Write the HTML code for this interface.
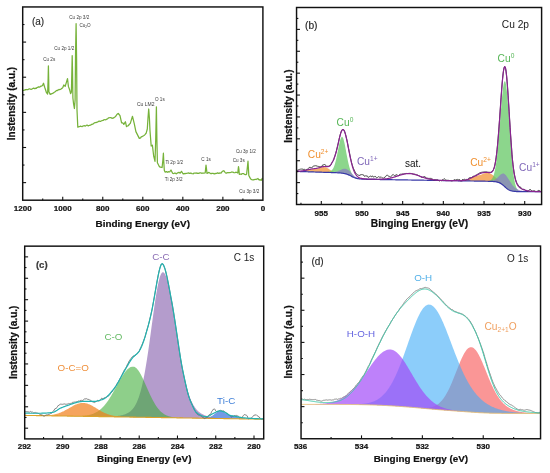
<!DOCTYPE html>
<html><head><meta charset="utf-8"><style>
html,body{margin:0;padding:0;background:#fff;width:550px;height:473px;overflow:hidden}
svg{display:block;will-change:transform}
text{font-family:"Liberation Sans", sans-serif}
.g{opacity:0.999}
</style></head><body>
<svg width="550" height="473" viewBox="0 0 550 473">
<rect x="0" y="0" width="550" height="473" fill="#fff"/>
<g class="g">
<path d="M22.8,90.50L23.4,90.32L24,90.28L24.6,90.05L25.3,89.61L25.9,89.79L26.5,89.50L27.2,89.70L27.8,89.58L28.5,89.26L29.1,88.85L29.8,88.92L30.4,89.14L31.1,89.30L31.7,89.11L32.4,88.72L33,88.43L33.7,88.02L34.3,88.57L35,88.61L35.6,88.20L36.3,88.40L36.9,87.62L37.6,87.34L38.2,87.24L38.9,86.76L39.5,87.14L40.2,86.80L41,86.04L41.7,86.02L42.5,85.50L43.5,83.20L44.7,87.30L46.5,92.70L47.6,94.10L48.1,80.00L48.4,65.90L48.7,80.00L48.9,91.80L50.2,94.40L52,93.60L52.6,93.45L53.3,92.97L53.9,92.62L54.6,92.08L55.2,91.74L55.8,91.12L56.5,90.47L57.1,90.68L57.8,90.10L58.4,90.00L59,89.41L59.7,89.53L60.3,89.38L61,89.01L61.6,88.64L62.3,88.10L62.9,87.30L63.8,85.00L65.2,86.40L67.5,78.60L68.4,86.40L69.7,90.00L70.6,93.60L71.4,92.00L71.9,70.00L72.2,55.70L72.5,70.00L72.9,98.00L73.6,104.00L74.4,108.50L75.1,100.00L75.6,50.00L76.1,23.70L76.6,60.00L77,110.00L77.8,127.10L78.5,126.80L79.2,126.57L79.9,126.40L80.6,126.19L81.3,126.51L82,126.64L82.6,126.24L83.3,125.92L84,125.80L84.6,125.64L85.2,126.10L85.8,125.81L86.5,125.30L87.1,125.03L87.7,125.42L88.3,125.89L88.9,125.50L89.5,125.38L90.1,125.14L90.8,125.07L91.4,124.47L92,124.30L92.6,124.10L93.3,123.89L93.9,123.25L94.6,122.75L95.2,122.49L95.9,122.74L96.5,122.30L97.2,122.20L97.9,121.84L98.6,121.38L99.3,121.01L100,121.50L100.7,121.37L101.3,120.86L102,120.71L102.7,120.49L103.3,120.43L104,119.60L104.6,119.71L105.3,119.76L105.9,119.68L106.6,119.19L107.2,119.07L107.9,118.54L108.5,117.90L110.5,117.50L111.1,117.57L111.7,118.20L112.3,118.02L112.9,118.40L113.5,117.87L114.1,117.60L114.8,116.97L115.4,116.70L116,115.80L116.8,114.71L117.5,113.88L118.3,113.50L120,115.70L121.6,122.80L122.3,122.86L123.1,123.19L123.8,124.40L125.4,121.70L126.5,126.60L127.1,126.10L127.8,125.99L128.4,125.49L129,124.74L129.7,123.88L130.3,123.40L132.5,116.30L134.2,123.40L135.9,131.60L139.3,138.40L140,138.23L140.6,137.91L141.2,136.91L141.9,136.70L142.6,136.21L143.3,135.88L144,135.53L144.7,134.84L145.4,134.05L146.1,133.30L147.3,129.00L148,118.00L148.7,109.00L149.4,118.00L150,130.80L151.2,146.00L152.4,145.20L153.7,156.20L155,161.30L155.7,140.00L156.4,106.80L156.9,140.00L157.4,162.70L159.3,166.50L160,167.17L160.7,167.08L161.4,167.33L162.1,167.50L162.9,160.00L163.4,153.20L163.8,162.00L164.3,170.30L165,171.90L165.7,172.05L166.3,171.55L167,171.86L167.7,172.28L168.4,171.70L169,171.86L169.7,171.90L171,170.00L172.6,173.20L173.2,173.58L173.9,173.50L174.5,173.16L175.1,173.09L175.8,173.55L176.4,173.77L177,173.21L177.7,172.84L178.3,172.62L178.9,172.43L179.6,172.69L180.2,173.20L181.5,171.30L183,173.80L183.6,173.72L184.2,173.85L184.8,173.44L185.4,173.55L186,173.42L186.6,173.47L187.2,173.25L187.8,173.06L188.4,172.94L189,173.04L189.6,173.38L190.2,173.43L190.8,173.00L191.4,173.32L192,173.65L192.6,173.75L193.2,173.81L193.8,173.13L194.4,173.12L195,173.20L195.7,173.20L196.4,172.96L197.2,173.32L197.9,173.14L198.6,173.40L199.2,173.23L199.8,172.85L200.5,172.93L201.1,172.89L201.7,173.39L202.3,173.13L203,173.16L203.6,173.20L205.2,172.90L205.7,168.00L206,165.20L206.4,168.00L207,173.40L209,172.40L210.5,173.40L211.1,173.81L211.8,173.28L212.4,173.42L213.1,173.42L213.7,173.62L214.4,173.95L215,173.40L215.6,173.61L216.3,173.45L216.9,173.36L217.6,172.83L218.2,173.16L218.8,173.47L219.5,173.08L220.1,172.78L220.8,173.18L221.4,172.70L222,171.75L222.6,171.05L223.2,171.09L223.8,170.70L225.5,173.00L226.1,173.02L226.7,173.06L227.3,172.54L227.9,172.77L228.5,172.71L229.1,172.72L229.7,172.60L230.3,172.52L230.9,172.30L231.6,172.00L232.2,172.14L232.8,172.05L233.4,172.39L234,172.68L234.6,172.75L235.2,172.54L235.8,172.20L236.4,172.30L237.8,173.00L238.2,169.00L238.5,166.60L238.9,169.00L239.3,174.30L240,174.04L240.7,174.06L241.4,174.32L242.1,173.63L242.8,173.60L243.4,173.66L244.1,173.99L244.7,174.40L245.3,174.59L246,174.61L246.6,174.30L247.5,166.00L248,161.20L248.4,168.00L248.8,175.50L249.8,177.40L250.5,178.70L251.2,179.32L251.9,179.65L252.7,179.77L253.4,179.90L254.1,179.60L255.5,179.30L256.1,179.51L256.8,179.04L257.4,178.89L258,178.50L258.6,179.54L259.3,180.10L259.9,179.70L260.6,179.89L261.2,180.40L262.4,178.00" fill="none" stroke="#76b23a" stroke-width="1.25" stroke-linejoin="round"/>
<rect x="22.7" y="6.95" width="240.20" height="193.25" fill="none" stroke="#111" stroke-width="1.45"/>
<line x1="22.7" y1="24.52" x2="24.5" y2="24.52" stroke="#111" stroke-width="1.1"/>
<line x1="22.7" y1="42.09" x2="26.099999999999998" y2="42.09" stroke="#111" stroke-width="1.1"/>
<line x1="22.7" y1="59.65" x2="24.5" y2="59.65" stroke="#111" stroke-width="1.1"/>
<line x1="22.7" y1="77.22" x2="26.099999999999998" y2="77.22" stroke="#111" stroke-width="1.1"/>
<line x1="22.7" y1="94.79" x2="24.5" y2="94.79" stroke="#111" stroke-width="1.1"/>
<line x1="22.7" y1="112.36" x2="26.099999999999998" y2="112.36" stroke="#111" stroke-width="1.1"/>
<line x1="22.7" y1="129.93" x2="24.5" y2="129.93" stroke="#111" stroke-width="1.1"/>
<line x1="22.7" y1="147.50" x2="26.099999999999998" y2="147.50" stroke="#111" stroke-width="1.1"/>
<line x1="22.7" y1="165.06" x2="24.5" y2="165.06" stroke="#111" stroke-width="1.1"/>
<line x1="22.7" y1="182.63" x2="26.099999999999998" y2="182.63" stroke="#111" stroke-width="1.1"/>
<line x1="222.87" y1="200.2" x2="222.87" y2="196.79999999999998" stroke="#111" stroke-width="1.1"/>
<line x1="182.83" y1="200.2" x2="182.83" y2="196.79999999999998" stroke="#111" stroke-width="1.1"/>
<line x1="142.80" y1="200.2" x2="142.80" y2="196.79999999999998" stroke="#111" stroke-width="1.1"/>
<line x1="102.77" y1="200.2" x2="102.77" y2="196.79999999999998" stroke="#111" stroke-width="1.1"/>
<line x1="62.73" y1="200.2" x2="62.73" y2="196.79999999999998" stroke="#111" stroke-width="1.1"/>
<line x1="242.88" y1="200.2" x2="242.88" y2="198.39999999999998" stroke="#111" stroke-width="1.1"/>
<line x1="202.85" y1="200.2" x2="202.85" y2="198.39999999999998" stroke="#111" stroke-width="1.1"/>
<line x1="162.82" y1="200.2" x2="162.82" y2="198.39999999999998" stroke="#111" stroke-width="1.1"/>
<line x1="122.78" y1="200.2" x2="122.78" y2="198.39999999999998" stroke="#111" stroke-width="1.1"/>
<line x1="82.75" y1="200.2" x2="82.75" y2="198.39999999999998" stroke="#111" stroke-width="1.1"/>
<line x1="42.72" y1="200.2" x2="42.72" y2="198.39999999999998" stroke="#111" stroke-width="1.1"/>
<text x="262.9" y="210.9" font-size="8.0" text-anchor="middle" font-weight="bold" fill="#111" stroke="#111" stroke-width="0.22">0</text>
<text x="222.9" y="210.9" font-size="8.0" text-anchor="middle" font-weight="bold" fill="#111" stroke="#111" stroke-width="0.22">200</text>
<text x="182.8" y="210.9" font-size="8.0" text-anchor="middle" font-weight="bold" fill="#111" stroke="#111" stroke-width="0.22">400</text>
<text x="142.8" y="210.9" font-size="8.0" text-anchor="middle" font-weight="bold" fill="#111" stroke="#111" stroke-width="0.22">600</text>
<text x="102.8" y="210.9" font-size="8.0" text-anchor="middle" font-weight="bold" fill="#111" stroke="#111" stroke-width="0.22">800</text>
<text x="62.7" y="210.9" font-size="8.0" text-anchor="middle" font-weight="bold" fill="#111" stroke="#111" stroke-width="0.22">1000</text>
<text x="22.7" y="210.9" font-size="8.0" text-anchor="middle" font-weight="bold" fill="#111" stroke="#111" stroke-width="0.22">1200</text>
<text x="142.8" y="227.0" font-size="9.9" text-anchor="middle" font-weight="bold" fill="#111" stroke="#111" stroke-width="0.22">Binding Energy (eV)</text>
<text transform="translate(14.6,103.5) rotate(-90)" font-size="10.0" font-weight="bold" text-anchor="middle" fill="#111" stroke="#111" stroke-width="0.22">Instensity (a.u.)</text>
<text x="31.9" y="25.0" font-size="10.0" text-anchor="start" font-weight="normal" fill="#2a2a2a" stroke="#2a2a2a" stroke-width="0.15">(a)</text>
<text x="69.3" y="18.6" font-size="4.6" text-anchor="start" font-weight="normal" fill="#3a3a3a" >Cu 2p 3/2</text>
<text x="79.4" y="26.9" font-size="4.6" fill="#3a3a3a">Cu<tspan font-size="3.2" dy="1">2</tspan><tspan dy="-1">O</tspan></text>
<text x="54.3" y="50.4" font-size="4.6" text-anchor="start" font-weight="normal" fill="#3a3a3a" >Cu 2p 1/2</text>
<text x="43.2" y="60.9" font-size="4.6" text-anchor="start" font-weight="normal" fill="#3a3a3a" >Cu 2s</text>
<text x="137.0" y="105.6" font-size="5.0" text-anchor="start" font-weight="normal" fill="#3a3a3a" >Cu LM2</text>
<text x="155.0" y="100.7" font-size="4.6" text-anchor="start" font-weight="normal" fill="#3a3a3a" >O 1s</text>
<text x="165.4" y="163.8" font-size="4.6" text-anchor="start" font-weight="normal" fill="#3a3a3a" >Ti 2p 1/2</text>
<text x="164.8" y="180.5" font-size="4.6" text-anchor="start" font-weight="normal" fill="#3a3a3a" >Ti 2p 3/2</text>
<text x="201.3" y="160.5" font-size="4.6" text-anchor="start" font-weight="normal" fill="#3a3a3a" >C 1s</text>
<text x="235.9" y="153.0" font-size="4.6" text-anchor="start" font-weight="normal" fill="#3a3a3a" >Cu 3p 1/2</text>
<text x="232.7" y="162.2" font-size="4.6" text-anchor="start" font-weight="normal" fill="#3a3a3a" >Cu 3s</text>
<text x="239.3" y="193.0" font-size="4.6" text-anchor="start" font-weight="normal" fill="#3a3a3a" >Cu 3p 3/2</text>
<path d="M296.6,171.31L297.1,171.31L297.6,171.30L298.1,171.29L298.6,171.27L299.1,171.25L299.6,171.22L300.1,171.19L300.6,171.15L301.1,171.11L301.6,171.06L302.1,171.00L302.6,170.93L303.1,170.86L303.6,170.78L304.1,170.70L304.6,170.61L305.1,170.51L305.6,170.41L306.1,170.31L306.6,170.20L307.1,170.09L307.6,169.98L308.1,169.87L308.6,169.76L309.1,169.66L309.6,169.56L310.1,169.46L310.6,169.37L311.1,169.28L311.6,169.20L312.1,169.13L312.6,169.07L313.1,169.01L313.6,168.95L314.1,168.90L314.6,168.84L315.1,168.79L315.6,168.73L316.1,168.66L316.6,168.59L317.1,168.51L317.6,168.41L318.1,168.31L318.6,168.19L319.1,168.06L319.6,167.92L320.1,167.78L320.6,167.63L321.1,167.49L321.6,167.36L322.1,167.24L322.6,167.15L323.1,167.08L323.6,167.05L324.1,167.05L324.6,167.10L325.1,167.18L325.6,167.32L326.1,167.49L326.6,167.71L327.1,167.96L327.6,168.24L328.1,168.54L328.6,168.87L329.1,169.20L329.6,169.54L330.1,169.87L330.6,170.20L331.1,170.51L331.6,170.80L332.1,171.07L332.6,171.32L333.1,171.55L333.6,171.75L334.1,171.93L334.6,172.09L335.1,172.22L335.6,172.34L336.1,172.44L336.6,172.53L337.1,172.60L337.6,172.67L338.1,172.73L338.1,172.82L337.6,172.80L337.1,172.77L336.6,172.75L336.1,172.72L335.6,172.70L335.1,172.68L334.6,172.66L334.1,172.64L333.6,172.62L333.1,172.60L332.6,172.58L332.1,172.56L331.6,172.55L331.1,172.53L330.6,172.51L330.1,172.50L329.6,172.48L329.1,172.46L328.6,172.44L328.1,172.43L327.6,172.41L327.1,172.40L326.6,172.38L326.1,172.36L325.6,172.35L325.1,172.33L324.6,172.31L324.1,172.30L323.6,172.28L323.1,172.27L322.6,172.25L322.1,172.23L321.6,172.22L321.1,172.20L320.6,172.19L320.1,172.17L319.6,172.15L319.1,172.14L318.6,172.12L318.1,172.11L317.6,172.09L317.1,172.07L316.6,172.06L316.1,172.04L315.6,172.03L315.1,172.01L314.6,171.99L314.1,171.98L313.6,171.96L313.1,171.95L312.6,171.93L312.1,171.91L311.6,171.90L311.1,171.88L310.6,171.87L310.1,171.85L309.6,171.83L309.1,171.82L308.6,171.80L308.1,171.79L307.6,171.77L307.1,171.75L306.6,171.74L306.1,171.72L305.6,171.71L305.1,171.69L304.6,171.67L304.1,171.66L303.6,171.64L303.1,171.63L302.6,171.61L302.1,171.59L301.6,171.58L301.1,171.56L300.6,171.55L300.1,171.53L299.6,171.51L299.1,171.50L298.6,171.48L298.1,171.47L297.6,171.45L297.1,171.43L296.6,171.42Z" fill="#f5a85e" fill-opacity="0.92"/>
<path d="M460.1,180.72L460.6,180.70L461.1,180.68L461.6,180.66L462.1,180.63L462.6,180.58L463.1,180.54L463.6,180.48L464.1,180.41L464.6,180.32L465.1,180.23L465.6,180.12L466.1,180.00L466.6,179.86L467.1,179.71L467.6,179.54L468.1,179.36L468.6,179.16L469.1,178.95L469.6,178.74L470.1,178.51L470.6,178.27L471.1,178.03L471.6,177.79L472.1,177.55L472.6,177.32L473.1,177.09L473.6,176.88L474.1,176.67L474.6,176.48L475.1,176.30L475.6,176.13L476.1,175.98L476.6,175.85L477.1,175.72L477.6,175.60L478.1,175.48L478.6,175.36L479.1,175.24L479.6,175.11L480.1,174.97L480.6,174.81L481.1,174.65L481.6,174.47L482.1,174.27L482.6,174.07L483.1,173.87L483.6,173.67L484.1,173.47L484.6,173.29L485.1,173.13L485.6,172.99L486.1,172.88L486.6,172.81L487.1,172.77L487.6,172.78L488.1,172.82L488.6,172.91L489.1,173.04L489.6,173.21L490.1,173.41L490.6,173.66L491.1,173.93L491.6,174.24L492.1,174.58L492.6,174.94L493.1,175.33L493.6,175.73L494.1,176.16L494.6,176.60L495.1,177.05L495.6,177.50L496.1,177.96L496.6,178.42L497.1,178.89L497.6,179.35L498.1,179.82L498.6,180.29L499.1,180.76L499.6,181.23L500.1,181.71L500.6,182.20L501.1,182.69L501.6,183.19L502.1,183.70L502.6,184.22L503.1,184.75L503.6,185.27L504.1,185.80L504.6,186.32L505.1,186.83L505.6,187.32L506.1,187.79L506.6,188.23L506.6,188.32L506.1,187.91L505.6,187.47L505.1,187.02L504.6,186.56L504.1,186.11L503.6,185.65L503.1,185.21L502.6,184.79L502.1,184.40L501.6,184.03L501.1,183.69L500.6,183.39L500.1,183.11L499.6,182.87L499.1,182.65L498.6,182.47L498.1,182.30L497.6,182.16L497.1,182.04L496.6,181.94L496.1,181.85L495.6,181.77L495.1,181.71L494.6,181.65L494.1,181.59L493.6,181.55L493.1,181.51L492.6,181.47L492.1,181.44L491.6,181.41L491.1,181.39L490.6,181.37L490.1,181.35L489.6,181.33L489.1,181.31L488.6,181.30L488.1,181.29L487.6,181.27L487.1,181.26L486.6,181.25L486.1,181.24L485.6,181.23L485.1,181.22L484.6,181.21L484.1,181.20L483.6,181.19L483.1,181.18L482.6,181.17L482.1,181.16L481.6,181.16L481.1,181.15L480.6,181.14L480.1,181.13L479.6,181.12L479.1,181.11L478.6,181.11L478.1,181.10L477.6,181.09L477.1,181.08L476.6,181.07L476.1,181.07L475.6,181.06L475.1,181.05L474.6,181.04L474.1,181.03L473.6,181.02L473.1,181.02L472.6,181.01L472.1,181.00L471.6,180.99L471.1,180.98L470.6,180.98L470.1,180.97L469.6,180.96L469.1,180.95L468.6,180.94L468.1,180.94L467.6,180.93L467.1,180.92L466.6,180.91L466.1,180.90L465.6,180.90L465.1,180.89L464.6,180.88L464.1,180.87L463.6,180.86L463.1,180.86L462.6,180.85L462.1,180.84L461.6,180.83L461.1,180.82L460.6,180.82L460.1,180.81Z" fill="#f5a85e" fill-opacity="0.92"/>
<path d="M306.6,171.66L307.1,171.67L307.6,171.68L308.1,171.70L308.6,171.71L309.1,171.72L309.6,171.74L310.1,171.75L310.6,171.76L311.1,171.77L311.6,171.79L312.1,171.80L312.6,171.81L313.1,171.82L313.6,171.84L314.1,171.85L314.6,171.86L315.1,171.87L315.6,171.88L316.1,171.89L316.6,171.90L317.1,171.91L317.6,171.92L318.1,171.93L318.6,171.94L319.1,171.95L319.6,171.96L320.1,171.96L320.6,171.97L321.1,171.98L321.6,171.98L322.1,171.99L322.6,171.99L323.1,171.99L323.6,171.99L324.1,171.99L324.6,171.99L325.1,171.99L325.6,171.98L326.1,171.97L326.6,171.95L327.1,171.92L327.6,171.88L328.1,171.83L328.6,171.76L329.1,171.66L329.6,171.53L330.1,171.35L330.6,171.11L331.1,170.80L331.6,170.39L332.1,169.87L332.6,169.22L333.1,168.42L333.6,167.44L334.1,166.27L334.6,164.89L335.1,163.29L335.6,161.46L336.1,159.43L336.6,157.20L337.1,154.82L337.6,152.32L338.1,149.76L338.6,147.22L339.1,144.77L339.6,142.49L340.1,140.49L340.6,138.84L341.1,137.63L341.6,136.93L342.1,136.77L342.6,137.16L343.1,138.10L343.6,139.53L344.1,141.39L344.6,143.59L345.1,146.06L345.6,148.69L346.1,151.41L346.6,154.14L347.1,156.81L347.6,159.37L348.1,161.79L348.6,164.01L349.1,166.04L349.6,167.86L350.1,169.46L350.6,170.87L351.1,172.09L351.6,173.13L352.1,174.03L352.6,174.78L353.1,175.42L353.6,175.96L354.1,176.41L354.6,176.80L355.1,177.12L355.6,177.39L356.1,177.62L356.6,177.82L357.1,177.99L357.6,178.14L358.1,178.26L358.6,178.37L359.1,178.47L359.6,178.55L360.1,178.63L360.6,178.69L361.1,178.75L361.6,178.80L362.1,178.85L362.6,178.89L363.1,178.93L363.6,178.96L364.1,178.99L364.6,179.02L365.1,179.04L365.6,179.07L366.1,179.09L366.6,179.11L367.1,179.13L367.6,179.15L368.1,179.17L368.6,179.18L369.1,179.20L369.6,179.21L370.1,179.23L370.6,179.24L371.1,179.26L371.6,179.27L372.1,179.28L372.6,179.29L373.1,179.31L373.6,179.32L374.1,179.33L374.6,179.34L375.1,179.35L375.6,179.36L376.1,179.37L376.6,179.39L377.1,179.40L377.6,179.41L377.6,179.49L377.1,179.48L376.6,179.47L376.1,179.46L375.6,179.46L375.1,179.45L374.6,179.44L374.1,179.43L373.6,179.42L373.1,179.41L372.6,179.40L372.1,179.40L371.6,179.39L371.1,179.38L370.6,179.37L370.1,179.36L369.6,179.35L369.1,179.34L368.6,179.33L368.1,179.32L367.6,179.30L367.1,179.29L366.6,179.28L366.1,179.27L365.6,179.25L365.1,179.23L364.6,179.22L364.1,179.20L363.6,179.17L363.1,179.15L362.6,179.12L362.1,179.09L361.6,179.06L361.1,179.02L360.6,178.98L360.1,178.93L359.6,178.87L359.1,178.81L358.6,178.74L358.1,178.65L357.6,178.56L357.1,178.46L356.6,178.34L356.1,178.20L355.6,178.06L355.1,177.89L354.6,177.71L354.1,177.52L353.6,177.31L353.1,177.08L352.6,176.85L352.1,176.60L351.6,176.35L351.1,176.09L350.6,175.83L350.1,175.58L349.6,175.33L349.1,175.09L348.6,174.86L348.1,174.65L347.6,174.45L347.1,174.27L346.6,174.10L346.1,173.95L345.6,173.82L345.1,173.69L344.6,173.58L344.1,173.48L343.6,173.38L343.1,173.30L342.6,173.23L342.1,173.16L341.6,173.10L341.1,173.05L340.6,173.00L340.1,172.96L339.6,172.92L339.1,172.89L338.6,172.85L338.1,172.82L337.6,172.80L337.1,172.77L336.6,172.75L336.1,172.72L335.6,172.70L335.1,172.68L334.6,172.66L334.1,172.64L333.6,172.62L333.1,172.60L332.6,172.58L332.1,172.56L331.6,172.55L331.1,172.53L330.6,172.51L330.1,172.50L329.6,172.48L329.1,172.46L328.6,172.44L328.1,172.43L327.6,172.41L327.1,172.40L326.6,172.38L326.1,172.36L325.6,172.35L325.1,172.33L324.6,172.31L324.1,172.30L323.6,172.28L323.1,172.27L322.6,172.25L322.1,172.23L321.6,172.22L321.1,172.20L320.6,172.19L320.1,172.17L319.6,172.15L319.1,172.14L318.6,172.12L318.1,172.11L317.6,172.09L317.1,172.07L316.6,172.06L316.1,172.04L315.6,172.03L315.1,172.01L314.6,171.99L314.1,171.98L313.6,171.96L313.1,171.95L312.6,171.93L312.1,171.91L311.6,171.90L311.1,171.88L310.6,171.87L310.1,171.85L309.6,171.83L309.1,171.82L308.6,171.80L308.1,171.79L307.6,171.77L307.1,171.75L306.6,171.74Z" fill="#66c866" fill-opacity="0.75"/>
<path d="M487.1,181.16L487.6,181.13L488.1,181.08L488.6,181.00L489.1,180.89L489.6,180.73L490.1,180.52L490.6,180.23L491.1,179.84L491.6,179.33L492.1,178.66L492.6,177.81L493.1,176.74L493.6,175.40L494.1,173.75L494.6,171.76L495.1,169.37L495.6,166.54L496.1,163.25L496.6,159.47L497.1,155.20L497.6,150.44L498.1,145.21L498.6,139.57L499.1,133.58L499.6,127.34L500.1,120.95L500.6,114.55L501.1,108.28L501.6,102.31L502.1,96.81L502.6,91.92L503.1,87.79L503.6,84.57L504.1,82.36L504.6,81.23L505.1,81.23L505.6,82.48L506.1,85.01L506.6,88.75L507.1,93.56L507.6,99.29L508.1,105.75L508.6,112.74L509.1,120.05L509.6,127.48L510.1,134.85L510.6,141.99L511.1,148.78L511.6,155.09L512,160.85L512.5,166.03L513,170.60L513.5,174.57L514,177.96L514.5,180.81L515,183.18L515.5,185.11L516,186.66L516.5,187.89L517,188.85L517.5,189.59L518,190.15L518.5,190.57L519,190.89L519.5,191.12L520,191.28L520.5,191.40L521,191.48L521.5,191.54L521.5,191.64L521,191.64L520.5,191.63L520,191.63L519.5,191.62L519,191.61L518.5,191.60L518,191.59L517.5,191.57L517,191.55L516.5,191.53L516,191.50L515.5,191.47L515,191.44L514.5,191.39L514,191.34L513.5,191.28L513,191.20L512.5,191.12L512,191.02L511.6,190.90L511.1,190.76L510.6,190.60L510.1,190.42L509.6,190.21L509.1,189.97L508.6,189.71L508.1,189.41L507.6,189.07L507.1,188.71L506.6,188.32L506.1,187.91L505.6,187.47L505.1,187.02L504.6,186.56L504.1,186.11L503.6,185.65L503.1,185.21L502.6,184.79L502.1,184.40L501.6,184.03L501.1,183.69L500.6,183.39L500.1,183.11L499.6,182.87L499.1,182.65L498.6,182.47L498.1,182.30L497.6,182.16L497.1,182.04L496.6,181.94L496.1,181.85L495.6,181.77L495.1,181.71L494.6,181.65L494.1,181.59L493.6,181.55L493.1,181.51L492.6,181.47L492.1,181.44L491.6,181.41L491.1,181.39L490.6,181.37L490.1,181.35L489.6,181.33L489.1,181.31L488.6,181.30L488.1,181.29L487.6,181.27L487.1,181.26Z" fill="#66c866" fill-opacity="0.75"/>
<path d="M330.6,172.41L331.1,172.40L331.6,172.38L332.1,172.36L332.6,172.33L333.1,172.28L333.6,172.23L334.1,172.16L334.6,172.08L335.1,171.98L335.6,171.87L336.1,171.74L336.6,171.59L337.1,171.43L337.6,171.25L338.1,171.05L338.6,170.84L339.1,170.62L339.6,170.40L340.1,170.16L340.6,169.93L341.1,169.71L341.6,169.49L342.1,169.29L342.6,169.12L343.1,168.97L343.6,168.85L344.1,168.78L344.6,168.75L345.1,168.77L345.6,168.83L346.1,168.95L346.6,169.13L347.1,169.36L347.6,169.64L348.1,169.98L348.6,170.37L349.1,170.80L349.6,171.26L350.1,171.76L350.6,172.27L351.1,172.80L351.6,173.33L352.1,173.86L352.6,174.37L353.1,174.87L353.6,175.35L354.1,175.79L354.6,176.21L355.1,176.59L355.6,176.94L356.1,177.25L356.6,177.53L357.1,177.78L357.6,178.00L358.1,178.19L358.6,178.36L359.1,178.50L359.6,178.63L360.1,178.73L360.6,178.82L361.1,178.90L361.6,178.97L361.6,179.06L361.1,179.02L360.6,178.98L360.1,178.93L359.6,178.87L359.1,178.81L358.6,178.74L358.1,178.65L357.6,178.56L357.1,178.46L356.6,178.34L356.1,178.20L355.6,178.06L355.1,177.89L354.6,177.71L354.1,177.52L353.6,177.31L353.1,177.08L352.6,176.85L352.1,176.60L351.6,176.35L351.1,176.09L350.6,175.83L350.1,175.58L349.6,175.33L349.1,175.09L348.6,174.86L348.1,174.65L347.6,174.45L347.1,174.27L346.6,174.10L346.1,173.95L345.6,173.82L345.1,173.69L344.6,173.58L344.1,173.48L343.6,173.38L343.1,173.30L342.6,173.23L342.1,173.16L341.6,173.10L341.1,173.05L340.6,173.00L340.1,172.96L339.6,172.92L339.1,172.89L338.6,172.85L338.1,172.82L337.6,172.80L337.1,172.77L336.6,172.75L336.1,172.72L335.6,172.70L335.1,172.68L334.6,172.66L334.1,172.64L333.6,172.62L333.1,172.60L332.6,172.58L332.1,172.56L331.6,172.55L331.1,172.53L330.6,172.51Z" fill="#8a69cd" fill-opacity="0.6"/>
<path d="M488.6,181.20L489.1,181.18L489.6,181.15L490.1,181.11L490.6,181.06L491.1,181.00L491.6,180.91L492.1,180.81L492.6,180.68L493.1,180.52L493.6,180.34L494.1,180.11L494.6,179.86L495.1,179.56L495.6,179.22L496.1,178.84L496.6,178.43L497.1,177.98L497.6,177.51L498.1,177.01L498.6,176.51L499.1,176.00L499.6,175.50L500.1,175.03L500.6,174.60L501.1,174.22L501.6,173.92L502.1,173.69L502.6,173.56L503.1,173.53L503.6,173.61L504.1,173.80L504.6,174.11L505.1,174.52L505.6,175.03L506.1,175.60L506.6,176.23L507.1,176.92L507.6,177.65L508.1,178.41L508.6,179.19L509.1,179.98L509.6,180.78L510.1,181.56L510.6,182.33L511.1,183.08L511.6,183.80L512,184.48L512.5,185.13L513,185.73L513.5,186.29L514,186.81L514.5,187.29L515,187.72L515.5,188.12L516,188.47L516.5,188.79L517,189.08L517.5,189.34L518,189.56L518.5,189.77L519,189.95L519.5,190.12L520,190.26L520.5,190.40L521,190.52L521.5,190.62L522,190.72L522.5,190.81L523,190.89L523.5,190.97L524,191.03L524.5,191.10L525,191.15L525.5,191.20L526,191.25L526.5,191.29L527,191.33L527.5,191.37L528,191.40L528.5,191.43L529,191.46L529.5,191.48L530,191.50L530.5,191.52L531,191.54L531.5,191.56L532,191.57L532.5,191.58L532.5,191.67L532,191.67L531.5,191.67L531,191.67L530.5,191.67L530,191.67L529.5,191.67L529,191.67L528.5,191.67L528,191.67L527.5,191.67L527,191.66L526.5,191.66L526,191.66L525.5,191.66L525,191.66L524.5,191.66L524,191.66L523.5,191.66L523,191.65L522.5,191.65L522,191.65L521.5,191.64L521,191.64L520.5,191.63L520,191.63L519.5,191.62L519,191.61L518.5,191.60L518,191.59L517.5,191.57L517,191.55L516.5,191.53L516,191.50L515.5,191.47L515,191.44L514.5,191.39L514,191.34L513.5,191.28L513,191.20L512.5,191.12L512,191.02L511.6,190.90L511.1,190.76L510.6,190.60L510.1,190.42L509.6,190.21L509.1,189.97L508.6,189.71L508.1,189.41L507.6,189.07L507.1,188.71L506.6,188.32L506.1,187.91L505.6,187.47L505.1,187.02L504.6,186.56L504.1,186.11L503.6,185.65L503.1,185.21L502.6,184.79L502.1,184.40L501.6,184.03L501.1,183.69L500.6,183.39L500.1,183.11L499.6,182.87L499.1,182.65L498.6,182.47L498.1,182.30L497.6,182.16L497.1,182.04L496.6,181.94L496.1,181.85L495.6,181.77L495.1,181.71L494.6,181.65L494.1,181.59L493.6,181.55L493.1,181.51L492.6,181.47L492.1,181.44L491.6,181.41L491.1,181.39L490.6,181.37L490.1,181.35L489.6,181.33L489.1,181.31L488.6,181.30Z" fill="#8a69cd" fill-opacity="0.6"/>
<path d="M296.6,171.42L297.1,171.43L297.6,171.45L298.1,171.47L298.6,171.48L299.1,171.50L299.6,171.51L300.1,171.53L300.6,171.55L301.1,171.56L301.6,171.58L302.1,171.59L302.6,171.61L303.1,171.63L303.6,171.64L304.1,171.66L304.6,171.67L305.1,171.69L305.6,171.71L306.1,171.72L306.6,171.74L307.1,171.75L307.6,171.77L308.1,171.79L308.6,171.80L309.1,171.82L309.6,171.83L310.1,171.85L310.6,171.87L311.1,171.88L311.6,171.90L312.1,171.91L312.6,171.93L313.1,171.95L313.6,171.96L314.1,171.98L314.6,171.99L315.1,172.01L315.6,172.03L316.1,172.04L316.6,172.06L317.1,172.07L317.6,172.09L318.1,172.11L318.6,172.12L319.1,172.14L319.6,172.15L320.1,172.17L320.6,172.19L321.1,172.20L321.6,172.22L322.1,172.23L322.6,172.25L323.1,172.27L323.6,172.28L324.1,172.30L324.6,172.31L325.1,172.33L325.6,172.35L326.1,172.36L326.6,172.38L327.1,172.40L327.6,172.41L328.1,172.43L328.6,172.44L329.1,172.46L329.6,172.48L330.1,172.50L330.6,172.51L331.1,172.53L331.6,172.55L332.1,172.56L332.6,172.58L333.1,172.60L333.6,172.62L334.1,172.64L334.6,172.66L335.1,172.68L335.6,172.70L336.1,172.72L336.6,172.75L337.1,172.77L337.6,172.80L338.1,172.82L338.6,172.85L339.1,172.89L339.6,172.92L340.1,172.96L340.6,173.00L341.1,173.05L341.6,173.10L342.1,173.16L342.6,173.23L343.1,173.30L343.6,173.38L344.1,173.48L344.6,173.58L345.1,173.69L345.6,173.82L346.1,173.95L346.6,174.10L347.1,174.27L347.6,174.45L348.1,174.65L348.6,174.86L349.1,175.09L349.6,175.33L350.1,175.58L350.6,175.83L351.1,176.09L351.6,176.35L352.1,176.60L352.6,176.85L353.1,177.08L353.6,177.31L354.1,177.52L354.6,177.71L355.1,177.89L355.6,178.06L356.1,178.20L356.6,178.34L357.1,178.46L357.6,178.56L358.1,178.65L358.6,178.74L359.1,178.81L359.6,178.87L360.1,178.93L360.6,178.98L361.1,179.02L361.6,179.06L362.1,179.09L362.6,179.12L363.1,179.15L363.6,179.17L364.1,179.20L364.6,179.22L365.1,179.23L365.6,179.25L366.1,179.27L366.6,179.28L367.1,179.29L367.6,179.30L368.1,179.32L368.6,179.33L369.1,179.34L369.6,179.35L370.1,179.36L370.6,179.37L371.1,179.38L371.6,179.39L372.1,179.40L372.6,179.40L373.1,179.41L373.6,179.42L374.1,179.43L374.6,179.44L375.1,179.45L375.6,179.46L376.1,179.46L376.6,179.47L377.1,179.48L377.6,179.49L378.1,179.50L378.6,179.50L379.1,179.51L379.6,179.52L380.1,179.53L380.6,179.54L381.1,179.54L381.6,179.55L382.1,179.56L382.6,179.57L383.1,179.58L383.6,179.58L384.1,179.59L384.6,179.60L385.1,179.61L385.6,179.62L386.1,179.62L386.6,179.63L387.1,179.64L387.6,179.65L388.1,179.66L388.6,179.66L389.1,179.67L389.6,179.68L390.1,179.69L390.6,179.70L391.1,179.70L391.6,179.71L392.1,179.72L392.6,179.73L393.1,179.74L393.6,179.74L394.1,179.75L394.6,179.76L395.1,179.77L395.6,179.78L396.1,179.78L396.6,179.79L397.1,179.80L397.6,179.81L398.1,179.82L398.6,179.82L399.1,179.83L399.6,179.84L400.1,179.85L400.6,179.86L401.1,179.86L401.6,179.87L402.1,179.88L402.6,179.89L403.1,179.90L403.6,179.90L404.1,179.91L404.6,179.92L405.1,179.93L405.6,179.94L406.1,179.94L406.6,179.95L407.1,179.96L407.6,179.97L408.1,179.98L408.6,179.98L409.1,179.99L409.6,180.00L410.1,180.01L410.6,180.02L411.1,180.02L411.6,180.03L412.1,180.04L412.6,180.05L413.1,180.06L413.6,180.06L414.1,180.07L414.6,180.08L415.1,180.09L415.6,180.10L416.1,180.10L416.6,180.11L417.1,180.12L417.6,180.13L418.1,180.14L418.6,180.14L419.1,180.15L419.6,180.16L420.1,180.17L420.6,180.18L421.1,180.18L421.6,180.19L422.1,180.20L422.6,180.21L423.1,180.22L423.6,180.22L424.1,180.23L424.6,180.24L425.1,180.25L425.6,180.26L426.1,180.26L426.6,180.27L427.1,180.28L427.6,180.29L428.1,180.30L428.6,180.30L429.1,180.31L429.6,180.32L430.1,180.33L430.6,180.34L431.1,180.34L431.6,180.35L432.1,180.36L432.6,180.37L433.1,180.38L433.6,180.38L434.1,180.39L434.6,180.40L435.1,180.41L435.6,180.42L436.1,180.42L436.6,180.43L437.1,180.44L437.6,180.45L438.1,180.46L438.6,180.46L439.1,180.47L439.6,180.48L440.1,180.49L440.6,180.50L441.1,180.50L441.6,180.51L442.1,180.52L442.6,180.53L443.1,180.54L443.6,180.54L444.1,180.55L444.6,180.56L445.1,180.57L445.6,180.58L446.1,180.58L446.6,180.59L447.1,180.60L447.6,180.61L448.1,180.62L448.6,180.62L449.1,180.63L449.6,180.64L450.1,180.65L450.6,180.66L451.1,180.66L451.6,180.67L452.1,180.68L452.6,180.69L453.1,180.70L453.6,180.70L454.1,180.71L454.6,180.72L455.1,180.73L455.6,180.74L456.1,180.74L456.6,180.75L457.1,180.76L457.6,180.77L458.1,180.78L458.6,180.78L459.1,180.79L459.6,180.80L460.1,180.81L460.6,180.82L461.1,180.82L461.6,180.83L462.1,180.84L462.6,180.85L463.1,180.86L463.6,180.86L464.1,180.87L464.6,180.88L465.1,180.89L465.6,180.90L466.1,180.90L466.6,180.91L467.1,180.92L467.6,180.93L468.1,180.94L468.6,180.94L469.1,180.95L469.6,180.96L470.1,180.97L470.6,180.98L471.1,180.98L471.6,180.99L472.1,181.00L472.6,181.01L473.1,181.02L473.6,181.02L474.1,181.03L474.6,181.04L475.1,181.05L475.6,181.06L476.1,181.07L476.6,181.07L477.1,181.08L477.6,181.09L478.1,181.10L478.6,181.11L479.1,181.11L479.6,181.12L480.1,181.13L480.6,181.14L481.1,181.15L481.6,181.16L482.1,181.16L482.6,181.17L483.1,181.18L483.6,181.19L484.1,181.20L484.6,181.21L485.1,181.22L485.6,181.23L486.1,181.24L486.6,181.25L487.1,181.26L487.6,181.27L488.1,181.29L488.6,181.30L489.1,181.31L489.6,181.33L490.1,181.35L490.6,181.37L491.1,181.39L491.6,181.41L492.1,181.44L492.6,181.47L493.1,181.51L493.6,181.55L494.1,181.59L494.6,181.65L495.1,181.71L495.6,181.77L496.1,181.85L496.6,181.94L497.1,182.04L497.6,182.16L498.1,182.30L498.6,182.47L499.1,182.65L499.6,182.87L500.1,183.11L500.6,183.39L501.1,183.69L501.6,184.03L502.1,184.40L502.6,184.79L503.1,185.21L503.6,185.65L504.1,186.11L504.6,186.56L505.1,187.02L505.6,187.47L506.1,187.91L506.6,188.32L507.1,188.71L507.6,189.07L508.1,189.41L508.6,189.71L509.1,189.97L509.6,190.21L510.1,190.42L510.6,190.60L511.1,190.76L511.6,190.90L512,191.02L512.5,191.12L513,191.20L513.5,191.28L514,191.34L514.5,191.39L515,191.44L515.5,191.47L516,191.50L516.5,191.53L517,191.55L517.5,191.57L518,191.59L518.5,191.60L519,191.61L519.5,191.62L520,191.63L520.5,191.63L521,191.64L521.5,191.64L522,191.65L522.5,191.65L523,191.65L523.5,191.66L524,191.66L524.5,191.66L525,191.66L525.5,191.66L526,191.66L526.5,191.66L527,191.66L527.5,191.67L528,191.67L528.5,191.67L529,191.67L529.5,191.67L530,191.67L530.5,191.67L531,191.67L531.5,191.67L532,191.67L532.5,191.67L533,191.67L533.5,191.67L534,191.67L534.5,191.67L535,191.67L535.5,191.67L536,191.67L536.5,191.67L537,191.67L537.5,191.67L538,191.67L538.5,191.67L539,191.67L539.5,191.67L540,191.67L540.5,191.67L541,191.67L541.5,191.67" fill="none" stroke="#3838a8" stroke-width="1.2"/>
<path d="M296.6,170.46L297.1,169.99L297.6,170.35L298.1,169.75L298.6,169.96L299.1,169.85L299.6,169.32L300.1,169.59L300.6,169.10L301.1,169.32L301.6,168.94L302.1,168.70L302.6,168.99L303.1,169.76L303.6,169.26L304.1,169.02L304.6,169.41L305.1,170.10L305.6,170.00L306.1,169.59L306.6,170.07L307.1,169.00L307.6,169.35L308.1,168.72L308.6,168.02L309.1,167.45L309.6,167.29L310.1,167.91L310.6,167.38L311.1,167.53L311.6,167.65L312.1,167.29L312.6,167.22L313.1,166.42L313.6,165.80L314.1,165.53L314.6,165.99L315.1,165.92L315.6,165.69L316.1,165.91L316.6,165.91L317.1,165.76L317.6,166.42L318.1,166.79L318.6,166.41L319.1,166.60L319.6,166.61L320.1,167.02L320.6,166.98L321.1,166.23L321.6,166.61L322.1,165.56L322.6,165.20L323.1,165.41L323.6,164.68L324.1,164.69L324.6,164.12L325.1,164.72L325.6,165.38L326.1,165.64L326.6,166.32L327.1,166.01L327.6,166.33L328.1,166.32L328.6,166.19L329.1,165.82L329.6,165.96L330.1,166.02L330.6,165.15L331.1,164.54L331.6,162.95L332.1,162.43L332.6,161.65L333.1,161.22L333.6,160.29L334.1,158.45L334.6,156.85L335.1,155.32L335.6,153.64L336.1,151.94L336.6,150.02L337.1,147.95L337.6,145.78L338.1,143.71L338.6,141.41L339.1,139.19L339.6,137.09L340.1,135.24L340.6,133.36L341.1,131.86L341.6,130.68L342.1,129.92L342.6,129.49L343.1,129.46L343.6,129.67L344.1,130.33L344.6,131.37L345.1,132.89L345.6,134.69L346.1,136.53L346.6,138.63L347.1,140.93L347.6,143.37L348.1,145.95L348.6,148.58L349.1,151.10L349.6,153.53L350.1,156.02L350.6,158.34L351.1,160.52L351.6,162.61L352.1,164.41L352.6,165.98L353.1,167.43L353.6,168.73L354.1,169.76L354.6,170.92L355.1,171.93L355.6,172.82L356.1,173.55L356.6,174.04L357.1,174.46L357.6,174.73L358.1,175.09L358.6,175.25L359.1,175.39L359.6,175.57L360.1,174.63L360.6,174.95L361.1,174.77L361.6,174.59L362.1,174.68L362.6,174.69L363.1,175.08L363.6,174.87L364.1,175.96L364.6,176.35L365.1,175.97L365.6,175.86L366.1,175.93L366.6,176.01L367.1,175.72L367.6,176.57L368.1,177.38L368.6,177.20L369.1,177.10L369.6,176.47L370.1,176.05L370.6,176.11L371.1,176.05L371.6,176.82L372.1,176.40L372.6,175.92L373.1,176.92L373.6,177.01L374.1,176.53L374.6,176.77L375.1,176.19L375.6,176.52L376.1,177.39L376.6,177.84L377.1,177.91L377.6,177.33L378.1,177.08L378.6,176.61L379.1,177.15L379.6,177.18L380.1,177.55L380.6,177.15L381.1,176.71L381.6,177.23L382.1,177.84L382.6,178.05L383.1,178.11L383.6,178.16L384.1,178.05L384.6,177.22L385.1,177.03L385.6,176.63L386.1,175.86L386.6,175.29L387.1,175.23L387.6,175.13L388.1,175.65L388.6,176.36L389.1,176.10L389.6,176.58L390.1,176.97L390.6,177.17L391.1,176.44L391.6,175.71L392.1,175.19L392.6,174.76L393.1,174.44L393.6,174.79L394.1,175.39L394.6,175.67L395.1,175.29L395.6,175.26L396.1,175.45L396.6,174.58L397.1,174.80L397.6,175.33L398.1,175.51L398.6,175.57L399.1,175.19L399.6,174.44L400.1,174.37L400.6,174.17L401.1,174.14L401.6,174.16L402.1,174.04L402.6,173.95L403.1,174.02L403.6,174.00L404.1,173.84L404.6,173.69L405.1,173.55L405.6,173.60L406.1,173.60L406.6,173.44L407.1,173.48L407.6,173.54L408.1,173.51L408.6,173.42L409.1,173.42L409.6,173.33L410.1,173.26L410.6,173.47L411.1,173.56L411.6,173.62L412.1,173.80L412.6,173.84L413.1,174.02L413.6,174.17L414.1,174.17L414.6,174.24L415.1,174.34L415.6,174.45L416.1,174.66L416.6,174.79L417.1,174.97L417.6,175.08L418.1,175.41L418.6,175.56L419.1,175.75L419.6,175.97L420.1,176.71L420.6,176.62L421.1,177.33L421.6,177.28L422.1,177.34L422.6,177.42L423.1,176.80L423.6,177.02L424.1,176.85L424.6,176.53L425.1,177.48L425.6,177.28L426.1,177.58L426.6,178.16L427.1,178.33L427.6,178.13L428.1,178.27L428.6,178.45L429.1,178.92L429.6,178.30L430.1,178.56L430.6,178.33L431.1,178.23L431.6,178.90L432.1,179.00L432.6,179.17L433.1,179.60L433.6,180.13L434.1,179.84L434.6,179.90L435.1,179.80L435.6,179.75L436.1,179.98L436.6,179.82L437.1,179.82L437.6,179.76L438.1,180.39L438.6,180.49L439.1,180.83L439.6,181.16L440.1,180.42L440.6,180.34L441.1,180.84L441.6,181.05L442.1,180.19L442.6,179.57L443.1,179.61L443.6,179.10L444.1,179.00L444.6,178.68L445.1,179.33L445.6,179.95L446.1,180.55L446.6,179.91L447.1,180.27L447.6,180.45L448.1,179.83L448.6,180.47L449.1,181.04L449.6,180.37L450.1,180.96L450.6,180.57L451.1,180.44L451.6,181.07L452.1,181.29L452.6,180.48L453.1,180.31L453.6,180.31L454.1,180.06L454.6,179.68L455.1,179.60L455.6,180.12L456.1,179.48L456.6,179.80L457.1,179.86L457.6,179.30L458.1,179.35L458.6,179.81L459.1,179.97L459.6,179.44L460.1,180.38L460.6,180.75L461.1,181.27L461.6,180.37L462.1,179.96L462.6,179.33L463.1,179.93L463.6,179.59L464.1,179.13L464.6,179.19L465.1,179.90L465.6,180.23L466.1,179.60L466.6,178.95L467.1,179.55L467.6,179.41L468.1,179.43L468.6,178.50L469.1,177.73L469.6,178.03L470.1,177.78L470.6,177.02L471.1,177.66L471.6,177.58L472.1,177.70L472.6,176.66L473.1,176.98L473.6,175.98L474.1,176.36L474.6,175.96L475.1,175.55L475.6,175.32L476.1,175.16L476.6,174.81L477.1,174.44L477.6,174.19L478.1,173.87L478.6,173.53L479.1,173.22L479.6,172.92L480.1,172.69L480.6,172.51L481.1,172.35L481.6,172.32L482.1,172.18L482.6,172.13L483.1,172.01L483.6,171.97L484.1,171.86L484.6,171.85L485.1,171.79L485.6,171.92L486.1,171.98L486.6,171.95L487.1,172.01L487.6,172.18L488.1,172.12L488.6,172.26L489.1,172.27L489.6,172.28L490.1,172.35L490.6,172.24L491.1,172.10L491.6,171.91L492.1,171.64L492.6,171.02L493.1,170.32L493.6,169.29L494.1,167.92L494.6,166.10L495.1,163.85L495.6,161.04L496.1,157.73L496.6,153.84L497.1,149.53L497.6,144.45L498.1,138.76L498.6,132.53L499.1,126.04L499.6,119.14L500.1,111.93L500.6,104.56L501.1,97.31L501.6,90.41L502.1,84.08L502.6,78.39L503.1,73.69L503.6,70.00L504.1,67.71L504.6,66.67L505.1,66.85L505.6,68.44L506.1,71.67L506.6,76.04L507.1,81.62L507.6,88.10L508.1,95.45L508.6,103.32L509.1,111.45L509.6,119.53L510.1,127.54L510.6,135.08L511.1,142.24L511.6,148.79L512,154.79L512.5,160.02L513,164.58L513.5,168.58L514,171.94L514.5,174.84L515,177.23L515.5,179.24L516,180.86L516.5,182.20L517,183.34L517.5,184.16L518,184.86L518.5,185.62L519,186.05L519.5,186.57L520,187.38L520.5,186.96L521,187.88L521.5,188.67L522,188.91L522.5,189.29L523,189.73L523.5,189.12L524,189.30L524.5,189.44L525,190.05L525.5,190.48L526,190.85L526.5,190.79L527,191.22L527.5,191.24L528,191.30L528.5,190.69L529,190.00L529.5,189.68L530,189.79L530.5,189.52L531,190.39L531.5,190.62L532,190.89L532.5,191.09L533,191.32L533.5,191.21L534,190.45L534.5,191.07L535,191.44L535.5,191.35L536,191.34L536.5,191.52L537,190.80L537.5,191.26L538,190.90L538.5,190.39L539,190.31L539.5,190.92L540,190.60L540.5,191.14L541,191.86L541.5,191.67" fill="none" stroke="#1a1a1a" stroke-width="0.8"/>
<path d="M296.6,171.23L297.1,171.22L297.6,171.21L298.1,171.20L298.6,171.18L299.1,171.16L299.6,171.13L300.1,171.09L300.6,171.05L301.1,171.00L301.6,170.95L302.1,170.89L302.6,170.82L303.1,170.75L303.6,170.67L304.1,170.58L304.6,170.49L305.1,170.39L305.6,170.28L306.1,170.18L306.6,170.07L307.1,169.95L307.6,169.84L308.1,169.72L308.6,169.61L309.1,169.50L309.6,169.40L310.1,169.29L310.6,169.20L311.1,169.11L311.6,169.02L312.1,168.95L312.6,168.87L313.1,168.81L313.6,168.74L314.1,168.68L314.6,168.62L315.1,168.56L315.6,168.49L316.1,168.42L316.6,168.34L317.1,168.25L317.6,168.14L318.1,168.02L318.6,167.89L319.1,167.75L319.6,167.60L320.1,167.44L320.6,167.28L321.1,167.12L321.6,166.97L322.1,166.83L322.6,166.71L323.1,166.62L323.6,166.55L324.1,166.51L324.6,166.50L325.1,166.52L325.6,166.56L326.1,166.61L326.6,166.67L327.1,166.72L327.6,166.72L328.1,166.68L328.6,166.55L329.1,166.33L329.6,166.00L330.1,165.54L330.6,164.96L331.1,164.26L331.6,163.46L332.1,162.57L332.6,161.60L333.1,160.56L333.6,159.45L334.1,158.26L334.6,156.96L335.1,155.54L335.6,153.98L336.1,152.26L336.6,150.39L337.1,148.37L337.6,146.24L338.1,144.02L338.6,141.78L339.1,139.57L339.6,137.44L340.1,135.45L340.6,133.67L341.1,132.16L341.6,130.95L342.1,130.10L342.6,129.63L343.1,129.55L343.6,129.89L344.1,130.62L344.6,131.72L345.1,133.16L345.6,134.89L346.1,136.89L346.6,139.10L347.1,141.47L347.6,143.96L348.1,146.52L348.6,149.11L349.1,151.69L349.6,154.21L350.1,156.66L350.6,159.01L351.1,161.23L351.6,163.30L352.1,165.22L352.6,166.99L353.1,168.58L353.6,170.02L354.1,171.30L354.6,172.43L355.1,173.41L355.6,174.27L356.1,175.01L356.6,175.65L357.1,176.19L357.6,176.65L358.1,177.03L358.6,177.36L359.1,177.63L359.6,177.85L360.1,178.04L360.6,178.20L361.1,178.33L361.6,178.44L362.1,178.54L362.6,178.62L363.1,178.68L363.6,178.74L364.1,178.79L364.6,178.84L365.1,178.88L365.6,178.91L366.1,178.94L366.6,178.97L367.1,179.00L367.6,179.02L368.1,179.04L368.6,179.06L369.1,179.08L369.6,179.10L370.1,179.11L370.6,179.13L371.1,179.14L371.6,179.16L372.1,179.17L372.6,179.18L373.1,179.19L373.6,179.20L374.1,179.21L374.6,179.22L375.1,179.22L375.6,179.23L376.1,179.23L376.6,179.24L377.1,179.24L377.6,179.24L378.1,179.23L378.6,179.23L379.1,179.22L379.6,179.21L380.1,179.20L380.6,179.19L381.1,179.17L381.6,179.15L382.1,179.13L382.6,179.10L383.1,179.07L383.6,179.04L384.1,179.00L384.6,178.96L385.1,178.91L385.6,178.86L386.1,178.80L386.6,178.74L387.1,178.68L387.6,178.60L388.1,178.53L388.6,178.44L389.1,178.35L389.6,178.26L390.1,178.16L390.6,178.05L391.1,177.94L391.6,177.82L392.1,177.69L392.6,177.56L393.1,177.43L393.6,177.29L394.1,177.14L394.6,176.99L395.1,176.84L395.6,176.68L396.1,176.52L396.6,176.36L397.1,176.19L397.6,176.03L398.1,175.86L398.6,175.69L399.1,175.52L399.6,175.36L400.1,175.20L400.6,175.04L401.1,174.88L401.6,174.73L402.1,174.59L402.6,174.45L403.1,174.32L403.6,174.20L404.1,174.08L404.6,173.98L405.1,173.88L405.6,173.80L406.1,173.73L406.6,173.67L407.1,173.62L407.6,173.58L408.1,173.56L408.6,173.55L409.1,173.55L409.6,173.57L410.1,173.60L410.6,173.64L411.1,173.70L411.6,173.76L412.1,173.84L412.6,173.94L413.1,174.04L413.6,174.15L414.1,174.28L414.6,174.41L415.1,174.55L415.6,174.70L416.1,174.86L416.6,175.02L417.1,175.19L417.6,175.37L418.1,175.54L418.6,175.72L419.1,175.91L419.6,176.09L420.1,176.27L420.6,176.46L421.1,176.64L421.6,176.83L422.1,177.01L422.6,177.18L423.1,177.36L423.6,177.53L424.1,177.70L424.6,177.86L425.1,178.01L425.6,178.17L426.1,178.31L426.6,178.45L427.1,178.59L427.6,178.72L428.1,178.84L428.6,178.96L429.1,179.07L429.6,179.18L430.1,179.28L430.6,179.37L431.1,179.46L431.6,179.55L432.1,179.63L432.6,179.70L433.1,179.77L433.6,179.83L434.1,179.89L434.6,179.95L435.1,180.00L435.6,180.05L436.1,180.09L436.6,180.13L437.1,180.17L437.6,180.21L438.1,180.24L438.6,180.27L439.1,180.30L439.6,180.33L440.1,180.35L440.6,180.37L441.1,180.39L441.6,180.41L442.1,180.43L442.6,180.45L443.1,180.47L443.6,180.48L444.1,180.50L444.6,180.51L445.1,180.52L445.6,180.53L446.1,180.55L446.6,180.56L447.1,180.57L447.6,180.58L448.1,180.59L448.6,180.60L449.1,180.61L449.6,180.62L450.1,180.63L450.6,180.64L451.1,180.64L451.6,180.65L452.1,180.66L452.6,180.67L453.1,180.68L453.6,180.69L454.1,180.69L454.6,180.70L455.1,180.71L455.6,180.71L456.1,180.72L456.6,180.72L457.1,180.73L457.6,180.73L458.1,180.73L458.6,180.73L459.1,180.72L459.6,180.72L460.1,180.71L460.6,180.69L461.1,180.67L461.6,180.65L462.1,180.61L462.6,180.57L463.1,180.52L463.6,180.46L464.1,180.39L464.6,180.31L465.1,180.22L465.6,180.11L466.1,179.98L466.6,179.85L467.1,179.69L467.6,179.53L468.1,179.35L468.6,179.15L469.1,178.94L469.6,178.72L470.1,178.49L470.6,178.26L471.1,178.02L471.6,177.77L472.1,177.53L472.6,177.28L473.1,177.04L473.6,176.80L474.1,176.56L474.6,176.32L475.1,176.08L475.6,175.84L476.1,175.59L476.6,175.34L477.1,175.08L477.6,174.81L478.1,174.54L478.6,174.28L479.1,174.01L479.6,173.76L480.1,173.53L480.6,173.32L481.1,173.14L481.6,172.98L482.1,172.85L482.6,172.75L483.1,172.67L483.6,172.61L484.1,172.56L484.6,172.52L485.1,172.49L485.6,172.47L486.1,172.46L486.6,172.46L487.1,172.47L487.6,172.49L488.1,172.51L488.6,172.54L489.1,172.57L489.6,172.58L490.1,172.57L490.6,172.51L491.1,172.37L491.6,172.14L492.1,171.76L492.6,171.21L493.1,170.44L493.6,169.39L494.1,168.01L494.6,166.25L495.1,164.04L495.6,161.32L496.1,158.06L496.6,154.21L497.1,149.76L497.6,144.70L498.1,139.05L498.6,132.86L499.1,126.21L499.6,119.20L500.1,111.96L500.6,104.66L501.1,97.48L501.6,90.61L502.1,84.26L502.6,78.63L503.1,73.91L503.6,70.26L504.1,67.81L504.6,66.67L505.1,66.89L505.6,68.58L506.1,71.70L506.6,76.16L507.1,81.80L507.6,88.40L508.1,95.74L508.6,103.59L509.1,111.69L509.6,119.84L510.1,127.81L510.6,135.45L511.1,142.62L511.6,149.21L512,155.17L512.5,160.47L513,165.11L513.5,169.12L514,172.54L514.5,175.42L515,177.83L515.5,179.83L516,181.48L516.5,182.83L517,183.95L517.5,184.88L518,185.65L518.5,186.29L519,186.84L519.5,187.31L520,187.72L520.5,188.08L521,188.41L521.5,188.70L522,188.96L522.5,189.21L523,189.43L523.5,189.63L524,189.82L524.5,190.00L525,190.16L525.5,190.31L526,190.44L526.5,190.57L527,190.68L527.5,190.79L528,190.88L528.5,190.97L529,191.05L529.5,191.12L530,191.18L530.5,191.24L531,191.29L531.5,191.34L532,191.38L532.5,191.41L533,191.45L533.5,191.47L534,191.50L534.5,191.52L535,191.54L535.5,191.56L536,191.57L536.5,191.59L537,191.60L537.5,191.61L538,191.62L538.5,191.62L539,191.63L539.5,191.64L540,191.64L540.5,191.64L541,191.65L541.5,191.65" fill="none" stroke="#8a2490" stroke-width="1.2"/>
<rect x="296.55" y="7.5" width="245.05" height="197.00" fill="none" stroke="#111" stroke-width="1.45"/>
<line x1="296.55" y1="18.44" x2="298.35" y2="18.44" stroke="#111" stroke-width="1.1"/>
<line x1="296.55" y1="29.39" x2="299.95" y2="29.39" stroke="#111" stroke-width="1.1"/>
<line x1="296.55" y1="40.33" x2="298.35" y2="40.33" stroke="#111" stroke-width="1.1"/>
<line x1="296.55" y1="51.28" x2="299.95" y2="51.28" stroke="#111" stroke-width="1.1"/>
<line x1="296.55" y1="62.22" x2="298.35" y2="62.22" stroke="#111" stroke-width="1.1"/>
<line x1="296.55" y1="73.17" x2="299.95" y2="73.17" stroke="#111" stroke-width="1.1"/>
<line x1="296.55" y1="84.11" x2="298.35" y2="84.11" stroke="#111" stroke-width="1.1"/>
<line x1="296.55" y1="95.06" x2="299.95" y2="95.06" stroke="#111" stroke-width="1.1"/>
<line x1="296.55" y1="106.00" x2="298.35" y2="106.00" stroke="#111" stroke-width="1.1"/>
<line x1="296.55" y1="116.94" x2="299.95" y2="116.94" stroke="#111" stroke-width="1.1"/>
<line x1="296.55" y1="127.89" x2="298.35" y2="127.89" stroke="#111" stroke-width="1.1"/>
<line x1="296.55" y1="138.83" x2="299.95" y2="138.83" stroke="#111" stroke-width="1.1"/>
<line x1="296.55" y1="149.78" x2="298.35" y2="149.78" stroke="#111" stroke-width="1.1"/>
<line x1="296.55" y1="160.72" x2="299.95" y2="160.72" stroke="#111" stroke-width="1.1"/>
<line x1="296.55" y1="171.67" x2="298.35" y2="171.67" stroke="#111" stroke-width="1.1"/>
<line x1="296.55" y1="182.61" x2="299.95" y2="182.61" stroke="#111" stroke-width="1.1"/>
<line x1="296.55" y1="193.56" x2="298.35" y2="193.56" stroke="#111" stroke-width="1.1"/>
<line x1="321.30" y1="204.5" x2="321.30" y2="201.1" stroke="#111" stroke-width="1.1"/>
<line x1="361.98" y1="204.5" x2="361.98" y2="201.1" stroke="#111" stroke-width="1.1"/>
<line x1="402.66" y1="204.5" x2="402.66" y2="201.1" stroke="#111" stroke-width="1.1"/>
<line x1="443.34" y1="204.5" x2="443.34" y2="201.1" stroke="#111" stroke-width="1.1"/>
<line x1="484.02" y1="204.5" x2="484.02" y2="201.1" stroke="#111" stroke-width="1.1"/>
<line x1="524.70" y1="204.5" x2="524.70" y2="201.1" stroke="#111" stroke-width="1.1"/>
<line x1="300.96" y1="204.5" x2="300.96" y2="202.7" stroke="#111" stroke-width="1.1"/>
<line x1="341.64" y1="204.5" x2="341.64" y2="202.7" stroke="#111" stroke-width="1.1"/>
<line x1="382.32" y1="204.5" x2="382.32" y2="202.7" stroke="#111" stroke-width="1.1"/>
<line x1="423.00" y1="204.5" x2="423.00" y2="202.7" stroke="#111" stroke-width="1.1"/>
<line x1="463.68" y1="204.5" x2="463.68" y2="202.7" stroke="#111" stroke-width="1.1"/>
<line x1="504.36" y1="204.5" x2="504.36" y2="202.7" stroke="#111" stroke-width="1.1"/>
<text x="321.3" y="215.5" font-size="8.0" text-anchor="middle" font-weight="bold" fill="#111" stroke="#111" stroke-width="0.22">955</text>
<text x="362.0" y="215.5" font-size="8.0" text-anchor="middle" font-weight="bold" fill="#111" stroke="#111" stroke-width="0.22">950</text>
<text x="402.7" y="215.5" font-size="8.0" text-anchor="middle" font-weight="bold" fill="#111" stroke="#111" stroke-width="0.22">945</text>
<text x="443.3" y="215.5" font-size="8.0" text-anchor="middle" font-weight="bold" fill="#111" stroke="#111" stroke-width="0.22">940</text>
<text x="484.0" y="215.5" font-size="8.0" text-anchor="middle" font-weight="bold" fill="#111" stroke="#111" stroke-width="0.22">935</text>
<text x="524.7" y="215.5" font-size="8.0" text-anchor="middle" font-weight="bold" fill="#111" stroke="#111" stroke-width="0.22">930</text>
<text x="419.5" y="226.8" font-size="10.2" text-anchor="middle" font-weight="bold" fill="#111" stroke="#111" stroke-width="0.22">Binging Energy (eV)</text>
<text transform="translate(291.8,106.2) rotate(-90)" font-size="10.0" font-weight="bold" text-anchor="middle" fill="#111" stroke="#111" stroke-width="0.22">Instensity (a.u.)</text>
<text x="305" y="29.0" font-size="10.2" text-anchor="start" font-weight="normal" fill="#222" stroke="#2a2a2a" stroke-width="0.15">(b)</text>
<text x="501.8" y="27.8" font-size="10.2" text-anchor="start" font-weight="normal" fill="#1a1a1a" >Cu 2p</text>
<text x="336.6" y="126.1" font-size="10.2" fill="#55b555">Cu<tspan font-size="6.63" dy="-4.1">0</tspan></text>
<text x="497.6" y="61.8" font-size="10.2" fill="#55b555">Cu<tspan font-size="6.63" dy="-4.1">0</tspan></text>
<text x="307.8" y="158.2" font-size="10.2" fill="#f09030">Cu<tspan font-size="6.63" dy="-4.1">2+</tspan></text>
<text x="470.2" y="165.7" font-size="10.2" fill="#f09030">Cu<tspan font-size="6.63" dy="-4.1">2+</tspan></text>
<text x="357.0" y="165.0" font-size="10.2" fill="#7f66b8">Cu<tspan font-size="6.63" dy="-4.1">1+</tspan></text>
<text x="519.1" y="170.9" font-size="10.2" fill="#7f66b8">Cu<tspan font-size="6.63" dy="-4.1">1+</tspan></text>
<text x="405.0" y="167.0" font-size="10.0" text-anchor="start" font-weight="normal" fill="#111" >sat.</text>
<path d="M102.7,416.56L103.2,416.56L103.7,416.56L104.2,416.56L104.7,416.56L105.2,416.56L105.7,416.55L106.2,416.55L106.7,416.54L107.2,416.53L107.7,416.52L108.2,416.52L108.7,416.50L109.2,416.49L109.7,416.48L110.2,416.46L110.7,416.44L111.2,416.42L111.7,416.40L112.2,416.38L112.7,416.35L113.2,416.32L113.7,416.29L114.2,416.26L114.7,416.22L115.2,416.18L115.7,416.14L116.2,416.09L116.7,416.04L117.2,415.98L117.7,415.92L118.2,415.86L118.7,415.79L119.2,415.72L119.7,415.64L120.2,415.55L120.7,415.46L121.2,415.36L121.7,415.25L122.2,415.13L122.7,415.01L123.2,414.87L123.7,414.73L124.2,414.57L124.7,414.40L125.2,414.22L125.7,414.03L126.2,413.82L126.7,413.59L127.2,413.35L127.7,413.08L128.2,412.80L128.7,412.49L129.2,412.16L129.7,411.79L130.2,411.41L130.7,410.98L131.2,410.53L131.7,410.04L132.2,409.51L132.7,408.93L133.2,408.31L133.7,407.64L134.2,406.92L134.7,406.14L135.2,405.30L135.7,404.40L136.2,403.42L136.7,402.38L137.2,401.26L137.7,400.06L138.2,398.77L138.7,397.40L139.2,395.93L139.7,394.36L140.2,392.70L140.7,390.93L141.2,389.06L141.7,387.07L142.2,384.98L142.7,382.77L143.2,380.45L143.7,378.01L144.2,375.46L144.7,372.79L145.2,370.01L145.7,367.12L146.2,364.12L146.7,361.02L147.2,357.82L147.7,354.52L148.2,351.14L148.7,347.68L149.2,344.16L149.7,340.57L150.2,336.93L150.7,333.26L151.2,329.57L151.7,325.86L152.2,322.15L152.7,318.47L153.2,314.81L153.7,311.21L154.2,307.67L154.7,304.21L155.2,300.85L155.7,297.60L156.2,294.48L156.7,291.51L157.2,288.71L157.7,286.08L158.2,283.64L158.7,281.41L159.2,279.40L159.7,277.62L160.2,276.07L160.7,274.78L161.2,273.74L161.7,272.97L162.2,272.46L162.7,272.22L163.2,272.25L163.7,272.49L164.2,272.95L164.7,273.62L165.2,274.49L165.7,275.57L166.2,276.85L166.7,278.32L167.2,279.97L167.7,281.81L168.2,283.81L168.7,285.98L169.2,288.30L169.7,290.76L170.2,293.35L170.7,296.07L171.2,298.89L171.7,301.82L172.2,304.83L172.7,307.91L173.2,311.07L173.7,314.27L174.2,317.51L174.7,320.79L175.2,324.09L175.7,327.39L176.2,330.69L176.7,333.98L177.2,337.26L177.7,340.50L178.2,343.71L178.7,346.87L179.2,349.98L179.7,353.03L180.2,356.02L180.7,358.93L181.2,361.78L181.7,364.54L182.2,367.23L182.7,369.83L183.2,372.34L183.7,374.77L184.2,377.10L184.7,379.35L185.2,381.50L185.7,383.57L186.2,385.54L186.7,387.43L187.2,389.23L187.7,390.94L188.2,392.56L188.7,394.11L189.2,395.57L189.7,396.95L190.2,398.26L190.7,399.50L191.2,400.67L191.7,401.77L192.2,402.80L192.7,403.77L193.2,404.69L193.7,405.55L194.2,406.35L194.7,407.11L195.2,407.82L195.7,408.48L196.2,409.10L196.7,409.68L197.2,410.23L197.7,410.74L198.2,411.21L198.7,411.66L199.2,412.08L199.7,412.47L200.2,412.83L200.7,413.17L201.2,413.49L201.7,413.79L202.2,414.07L202.7,414.34L203.2,414.58L203.7,414.81L204.2,415.03L204.7,415.24L205.2,415.43L205.7,415.61L206.2,415.78L206.7,415.94L207.2,416.09L207.7,416.23L208.2,416.37L208.7,416.49L209.2,416.61L209.7,416.73L210.2,416.83L210.7,416.93L211.2,417.03L211.7,417.12L212.2,417.21L212.7,417.29L213.2,417.37L213.7,417.44L214.2,417.51L214.7,417.57L215.2,417.64L215.7,417.70L216.2,417.75L216.7,417.81L217.2,417.86L217.7,417.91L218.2,417.95L218.7,418.00L219.2,418.04L219.7,418.08L220.2,418.11L220.7,418.15L221.2,418.18L221.7,418.22L222.2,418.25L222.7,418.28L223.2,418.31L223.7,418.33L224.2,418.36L224.7,418.38L225.2,418.41L225.7,418.43L226.2,418.45L226.7,418.47L227.2,418.49L227.7,418.51L228.2,418.53L228.7,418.55L229.2,418.56L229.7,418.58L230.2,418.59L230.7,418.61L230.7,418.69L230.2,418.68L229.7,418.68L229.2,418.67L228.7,418.66L228.2,418.65L227.7,418.64L227.2,418.64L226.7,418.63L226.2,418.62L225.7,418.61L225.2,418.60L224.7,418.60L224.2,418.59L223.7,418.58L223.2,418.57L222.7,418.56L222.2,418.56L221.7,418.55L221.2,418.54L220.7,418.53L220.2,418.52L219.7,418.52L219.2,418.51L218.7,418.50L218.2,418.49L217.7,418.48L217.2,418.48L216.7,418.47L216.2,418.46L215.7,418.45L215.2,418.44L214.7,418.44L214.2,418.43L213.7,418.42L213.2,418.41L212.7,418.40L212.2,418.40L211.7,418.39L211.2,418.38L210.7,418.37L210.2,418.36L209.7,418.36L209.2,418.35L208.7,418.34L208.2,418.33L207.7,418.32L207.2,418.32L206.7,418.31L206.2,418.30L205.7,418.29L205.2,418.28L204.7,418.28L204.2,418.27L203.7,418.26L203.2,418.25L202.7,418.24L202.2,418.24L201.7,418.23L201.2,418.22L200.7,418.21L200.2,418.20L199.7,418.20L199.2,418.19L198.7,418.18L198.2,418.17L197.7,418.16L197.2,418.16L196.7,418.15L196.2,418.14L195.7,418.13L195.2,418.12L194.7,418.12L194.2,418.11L193.7,418.10L193.2,418.09L192.7,418.08L192.2,418.08L191.7,418.07L191.2,418.06L190.7,418.05L190.2,418.04L189.7,418.04L189.2,418.03L188.7,418.02L188.2,418.01L187.7,418.00L187.2,418.00L186.7,417.99L186.2,417.98L185.7,417.97L185.2,417.96L184.7,417.96L184.2,417.95L183.7,417.94L183.2,417.93L182.7,417.92L182.2,417.92L181.7,417.91L181.2,417.90L180.7,417.89L180.2,417.88L179.7,417.88L179.2,417.87L178.7,417.86L178.2,417.85L177.7,417.84L177.2,417.84L176.7,417.83L176.2,417.82L175.7,417.81L175.2,417.80L174.7,417.80L174.2,417.79L173.7,417.78L173.2,417.77L172.7,417.76L172.2,417.76L171.7,417.75L171.2,417.74L170.7,417.73L170.2,417.72L169.7,417.72L169.2,417.71L168.7,417.70L168.2,417.69L167.7,417.68L167.2,417.68L166.7,417.67L166.2,417.66L165.7,417.65L165.2,417.64L164.7,417.64L164.2,417.63L163.7,417.62L163.2,417.61L162.7,417.60L162.2,417.60L161.7,417.59L161.2,417.58L160.7,417.57L160.2,417.56L159.7,417.56L159.2,417.55L158.7,417.54L158.2,417.53L157.7,417.52L157.2,417.52L156.7,417.51L156.2,417.50L155.7,417.49L155.2,417.48L154.7,417.48L154.2,417.47L153.7,417.46L153.2,417.45L152.7,417.44L152.2,417.44L151.7,417.43L151.2,417.42L150.7,417.41L150.2,417.40L149.7,417.40L149.2,417.39L148.7,417.38L148.2,417.37L147.7,417.36L147.2,417.36L146.7,417.35L146.2,417.34L145.7,417.33L145.2,417.32L144.7,417.32L144.2,417.31L143.7,417.30L143.2,417.29L142.7,417.28L142.2,417.28L141.7,417.27L141.2,417.26L140.7,417.25L140.2,417.24L139.7,417.24L139.2,417.23L138.7,417.22L138.2,417.21L137.7,417.20L137.2,417.20L136.7,417.19L136.2,417.18L135.7,417.17L135.2,417.16L134.7,417.16L134.2,417.15L133.7,417.14L133.2,417.13L132.7,417.12L132.2,417.12L131.7,417.11L131.2,417.10L130.7,417.09L130.2,417.08L129.7,417.08L129.2,417.07L128.7,417.06L128.2,417.05L127.7,417.04L127.2,417.04L126.7,417.03L126.2,417.02L125.7,417.01L125.2,417.00L124.7,417.00L124.2,416.99L123.7,416.98L123.2,416.97L122.7,416.96L122.2,416.96L121.7,416.95L121.2,416.94L120.7,416.93L120.2,416.92L119.7,416.92L119.2,416.91L118.7,416.90L118.2,416.89L117.7,416.88L117.2,416.88L116.7,416.87L116.2,416.86L115.7,416.85L115.2,416.84L114.7,416.84L114.2,416.83L113.7,416.82L113.2,416.81L112.7,416.80L112.2,416.80L111.7,416.79L111.2,416.78L110.7,416.77L110.2,416.76L109.7,416.76L109.2,416.75L108.7,416.74L108.2,416.73L107.7,416.72L107.2,416.72L106.7,416.71L106.2,416.70L105.7,416.69L105.2,416.68L104.7,416.68L104.2,416.67L103.7,416.66L103.2,416.65L102.7,416.64Z" fill="#b49ccc" fill-opacity="1.0"/>
<path d="M203.7,418.17L204.2,418.15L204.7,418.12L205.2,418.09L205.7,418.04L206.2,417.98L206.7,417.91L207.2,417.83L207.7,417.72L208.2,417.60L208.7,417.45L209.2,417.28L209.7,417.09L210.2,416.87L210.7,416.63L211.2,416.36L211.7,416.06L212.2,415.74L212.7,415.39L213.2,415.03L213.7,414.65L214.2,414.26L214.7,413.87L215.2,413.48L215.7,413.10L216.2,412.73L216.7,412.39L217.2,412.07L217.7,411.79L218.2,411.56L218.7,411.36L219.2,411.22L219.7,411.13L220.2,411.09L220.7,411.11L221.2,411.17L221.7,411.29L222.2,411.44L222.7,411.64L223.2,411.87L223.7,412.12L224.2,412.39L224.7,412.68L225.2,412.97L225.7,413.26L226.2,413.54L226.7,413.81L227.2,414.07L227.7,414.31L228.2,414.53L228.7,414.73L229.2,414.91L229.7,415.08L230.2,415.23L230.7,415.36L231.2,415.49L231.7,415.60L232.2,415.71L232.7,415.82L233.2,415.92L233.7,416.02L234.2,416.13L234.7,416.24L235.2,416.36L235.7,416.48L236.2,416.61L236.7,416.74L237.2,416.87L237.7,417.01L238.2,417.14L238.7,417.28L239.2,417.42L239.7,417.55L240.2,417.68L240.7,417.81L241.2,417.93L241.7,418.04L242.2,418.15L242.7,418.25L243.2,418.34L243.7,418.42L244.2,418.50L244.7,418.57L245.2,418.63L245.7,418.69L246.2,418.74L246.7,418.78L247.2,418.82L247.7,418.85L248.2,418.88L248.2,418.97L247.7,418.96L247.2,418.96L246.7,418.95L246.2,418.94L245.7,418.93L245.2,418.92L244.7,418.92L244.2,418.91L243.7,418.90L243.2,418.89L242.7,418.88L242.2,418.88L241.7,418.87L241.2,418.86L240.7,418.85L240.2,418.84L239.7,418.84L239.2,418.83L238.7,418.82L238.2,418.81L237.7,418.80L237.2,418.80L236.7,418.79L236.2,418.78L235.7,418.77L235.2,418.76L234.7,418.76L234.2,418.75L233.7,418.74L233.2,418.73L232.7,418.72L232.2,418.72L231.7,418.71L231.2,418.70L230.7,418.69L230.2,418.68L229.7,418.68L229.2,418.67L228.7,418.66L228.2,418.65L227.7,418.64L227.2,418.64L226.7,418.63L226.2,418.62L225.7,418.61L225.2,418.60L224.7,418.60L224.2,418.59L223.7,418.58L223.2,418.57L222.7,418.56L222.2,418.56L221.7,418.55L221.2,418.54L220.7,418.53L220.2,418.52L219.7,418.52L219.2,418.51L218.7,418.50L218.2,418.49L217.7,418.48L217.2,418.48L216.7,418.47L216.2,418.46L215.7,418.45L215.2,418.44L214.7,418.44L214.2,418.43L213.7,418.42L213.2,418.41L212.7,418.40L212.2,418.40L211.7,418.39L211.2,418.38L210.7,418.37L210.2,418.36L209.7,418.36L209.2,418.35L208.7,418.34L208.2,418.33L207.7,418.32L207.2,418.32L206.7,418.31L206.2,418.30L205.7,418.29L205.2,418.28L204.7,418.28L204.2,418.27L203.7,418.26Z" fill="#5a88e0" fill-opacity="0.85"/>
<path d="M74.2,416.10L74.7,416.10L75.2,416.09L75.7,416.09L76.2,416.08L76.7,416.08L77.2,416.07L77.7,416.06L78.2,416.05L78.7,416.03L79.2,416.02L79.7,416.00L80.2,415.98L80.7,415.96L81.2,415.93L81.7,415.91L82.2,415.87L82.7,415.84L83.2,415.80L83.7,415.76L84.2,415.71L84.7,415.66L85.2,415.60L85.7,415.54L86.2,415.47L86.7,415.40L87.2,415.32L87.7,415.24L88.2,415.15L88.7,415.05L89.2,414.94L89.7,414.82L90.2,414.70L90.7,414.56L91.2,414.42L91.7,414.27L92.2,414.10L92.7,413.93L93.2,413.74L93.7,413.54L94.2,413.33L94.7,413.10L95.2,412.86L95.7,412.61L96.2,412.34L96.7,412.06L97.2,411.76L97.7,411.44L98.2,411.11L98.7,410.76L99.2,410.39L99.7,410.01L100.2,409.60L100.7,409.18L101.2,408.74L101.7,408.27L102.2,407.79L102.7,407.29L103.2,406.77L103.7,406.22L104.2,405.66L104.7,405.07L105.2,404.47L105.7,403.84L106.2,403.20L106.7,402.53L107.2,401.84L107.7,401.14L108.2,400.41L108.7,399.67L109.2,398.90L109.7,398.12L110.2,397.32L110.7,396.51L111.2,395.68L111.7,394.84L112.2,393.98L112.7,393.11L113.2,392.23L113.7,391.34L114.2,390.44L114.7,389.53L115.2,388.62L115.7,387.71L116.2,386.79L116.7,385.87L117.2,384.95L117.7,384.03L118.2,383.12L118.7,382.21L119.2,381.31L119.7,380.42L120.2,379.55L120.7,378.68L121.2,377.83L121.7,377.00L122.2,376.19L122.7,375.40L123.2,374.64L123.7,373.90L124.2,373.18L124.7,372.50L125.2,371.84L125.7,371.22L126.2,370.63L126.7,370.08L127.2,369.56L127.7,369.08L128.2,368.64L128.7,368.25L129.2,367.89L129.7,367.58L130.2,367.31L130.7,367.08L131.2,366.90L131.7,366.76L132.2,366.67L132.7,366.63L133.2,366.64L133.7,366.71L134.2,366.85L134.7,367.05L135.2,367.33L135.7,367.67L136.2,368.08L136.7,368.55L137.2,369.08L137.7,369.67L138.2,370.32L138.7,371.03L139.2,371.78L139.7,372.59L140.2,373.44L140.7,374.33L141.2,375.27L141.7,376.24L142.2,377.24L142.7,378.27L143.2,379.33L143.7,380.41L144.2,381.51L144.7,382.63L145.2,383.75L145.7,384.89L146.2,386.03L146.7,387.17L147.2,388.31L147.7,389.45L148.2,390.58L148.7,391.70L149.2,392.81L149.7,393.90L150.2,394.97L150.7,396.03L151.2,397.07L151.7,398.08L152.2,399.07L152.7,400.03L153.2,400.97L153.7,401.87L154.2,402.75L154.7,403.60L155.2,404.42L155.7,405.21L156.2,405.96L156.7,406.69L157.2,407.39L157.7,408.05L158.2,408.69L158.7,409.29L159.2,409.87L159.7,410.41L160.2,410.93L160.7,411.42L161.2,411.88L161.7,412.32L162.2,412.73L162.7,413.11L163.2,413.47L163.7,413.81L164.2,414.13L164.7,414.43L165.2,414.71L165.7,414.96L166.2,415.20L166.7,415.43L167.2,415.63L167.7,415.83L168.2,416.00L168.7,416.17L169.2,416.32L169.7,416.46L170.2,416.59L170.7,416.71L171.2,416.82L171.7,416.92L172.2,417.01L172.7,417.09L173.2,417.17L173.7,417.24L174.2,417.31L174.7,417.37L175.2,417.42L175.7,417.47L176.2,417.52L176.7,417.56L177.2,417.60L177.7,417.63L178.2,417.67L178.7,417.70L179.2,417.72L179.7,417.75L180.2,417.77L180.7,417.79L181.2,417.81L181.2,417.90L180.7,417.89L180.2,417.88L179.7,417.88L179.2,417.87L178.7,417.86L178.2,417.85L177.7,417.84L177.2,417.84L176.7,417.83L176.2,417.82L175.7,417.81L175.2,417.80L174.7,417.80L174.2,417.79L173.7,417.78L173.2,417.77L172.7,417.76L172.2,417.76L171.7,417.75L171.2,417.74L170.7,417.73L170.2,417.72L169.7,417.72L169.2,417.71L168.7,417.70L168.2,417.69L167.7,417.68L167.2,417.68L166.7,417.67L166.2,417.66L165.7,417.65L165.2,417.64L164.7,417.64L164.2,417.63L163.7,417.62L163.2,417.61L162.7,417.60L162.2,417.60L161.7,417.59L161.2,417.58L160.7,417.57L160.2,417.56L159.7,417.56L159.2,417.55L158.7,417.54L158.2,417.53L157.7,417.52L157.2,417.52L156.7,417.51L156.2,417.50L155.7,417.49L155.2,417.48L154.7,417.48L154.2,417.47L153.7,417.46L153.2,417.45L152.7,417.44L152.2,417.44L151.7,417.43L151.2,417.42L150.7,417.41L150.2,417.40L149.7,417.40L149.2,417.39L148.7,417.38L148.2,417.37L147.7,417.36L147.2,417.36L146.7,417.35L146.2,417.34L145.7,417.33L145.2,417.32L144.7,417.32L144.2,417.31L143.7,417.30L143.2,417.29L142.7,417.28L142.2,417.28L141.7,417.27L141.2,417.26L140.7,417.25L140.2,417.24L139.7,417.24L139.2,417.23L138.7,417.22L138.2,417.21L137.7,417.20L137.2,417.20L136.7,417.19L136.2,417.18L135.7,417.17L135.2,417.16L134.7,417.16L134.2,417.15L133.7,417.14L133.2,417.13L132.7,417.12L132.2,417.12L131.7,417.11L131.2,417.10L130.7,417.09L130.2,417.08L129.7,417.08L129.2,417.07L128.7,417.06L128.2,417.05L127.7,417.04L127.2,417.04L126.7,417.03L126.2,417.02L125.7,417.01L125.2,417.00L124.7,417.00L124.2,416.99L123.7,416.98L123.2,416.97L122.7,416.96L122.2,416.96L121.7,416.95L121.2,416.94L120.7,416.93L120.2,416.92L119.7,416.92L119.2,416.91L118.7,416.90L118.2,416.89L117.7,416.88L117.2,416.88L116.7,416.87L116.2,416.86L115.7,416.85L115.2,416.84L114.7,416.84L114.2,416.83L113.7,416.82L113.2,416.81L112.7,416.80L112.2,416.80L111.7,416.79L111.2,416.78L110.7,416.77L110.2,416.76L109.7,416.76L109.2,416.75L108.7,416.74L108.2,416.73L107.7,416.72L107.2,416.72L106.7,416.71L106.2,416.70L105.7,416.69L105.2,416.68L104.7,416.68L104.2,416.67L103.7,416.66L103.2,416.65L102.7,416.64L102.2,416.64L101.7,416.63L101.2,416.62L100.7,416.61L100.2,416.60L99.7,416.60L99.2,416.59L98.7,416.58L98.2,416.57L97.7,416.56L97.2,416.56L96.7,416.55L96.2,416.54L95.7,416.53L95.2,416.52L94.7,416.52L94.2,416.51L93.7,416.50L93.2,416.49L92.7,416.48L92.2,416.48L91.7,416.47L91.2,416.46L90.7,416.45L90.2,416.44L89.7,416.44L89.2,416.43L88.7,416.42L88.2,416.41L87.7,416.40L87.2,416.40L86.7,416.39L86.2,416.38L85.7,416.37L85.2,416.36L84.7,416.36L84.2,416.35L83.7,416.34L83.2,416.33L82.7,416.32L82.2,416.32L81.7,416.31L81.2,416.30L80.7,416.29L80.2,416.28L79.7,416.28L79.2,416.27L78.7,416.26L78.2,416.25L77.7,416.24L77.2,416.24L76.7,416.23L76.2,416.22L75.7,416.21L75.2,416.20L74.7,416.20L74.2,416.19Z" fill="#3cac35" fill-opacity="0.58"/>
<path d="M39.7,415.55L40.2,415.55L40.7,415.55L41.2,415.54L41.7,415.53L42.2,415.53L42.7,415.52L43.2,415.51L43.7,415.49L44.2,415.48L44.7,415.46L45.2,415.44L45.7,415.42L46.2,415.40L46.7,415.37L47.2,415.34L47.7,415.30L48.2,415.27L48.7,415.22L49.2,415.18L49.7,415.13L50.2,415.08L50.7,415.02L51.2,414.95L51.7,414.88L52.2,414.81L52.7,414.73L53.2,414.64L53.7,414.55L54.2,414.45L54.7,414.34L55.2,414.23L55.7,414.11L56.2,413.98L56.7,413.85L57.2,413.71L57.7,413.55L58.2,413.40L58.7,413.23L59.2,413.06L59.7,412.87L60.2,412.68L60.7,412.49L61.2,412.28L61.7,412.06L62.2,411.84L62.7,411.61L63.2,411.38L63.7,411.13L64.2,410.88L64.7,410.62L65.2,410.36L65.7,410.09L66.2,409.82L66.7,409.54L67.2,409.26L67.7,408.97L68.2,408.69L68.7,408.40L69.2,408.11L69.7,407.81L70.2,407.52L70.7,407.24L71.2,406.95L71.7,406.66L72.2,406.38L72.7,406.11L73.2,405.84L73.7,405.58L74.2,405.32L74.7,405.08L75.2,404.84L75.7,404.61L76.2,404.40L76.7,404.19L77.2,404.00L77.7,403.82L78.2,403.66L78.7,403.51L79.2,403.38L79.7,403.26L80.2,403.16L80.7,403.08L81.2,403.02L81.7,402.97L82.2,402.94L82.7,402.93L83.2,402.93L83.7,402.96L84.2,403.00L84.7,403.06L85.2,403.14L85.7,403.23L86.2,403.35L86.7,403.47L87.2,403.62L87.7,403.78L88.2,403.96L88.7,404.15L89.2,404.35L89.7,404.57L90.2,404.80L90.7,405.04L91.2,405.29L91.7,405.55L92.2,405.82L92.7,406.10L93.2,406.38L93.7,406.67L94.2,406.97L94.7,407.27L95.2,407.57L95.7,407.87L96.2,408.18L96.7,408.49L97.2,408.79L97.7,409.10L98.2,409.40L98.7,409.70L99.2,410.00L99.7,410.30L100.2,410.59L100.7,410.87L101.2,411.15L101.7,411.43L102.2,411.70L102.7,411.96L103.2,412.21L103.7,412.46L104.2,412.70L104.7,412.93L105.2,413.15L105.7,413.37L106.2,413.58L106.7,413.78L107.2,413.97L107.7,414.15L108.2,414.33L108.7,414.50L109.2,414.66L109.7,414.81L110.2,414.96L110.7,415.09L111.2,415.22L111.7,415.35L112.2,415.46L112.7,415.57L113.2,415.68L113.7,415.77L114.2,415.87L114.7,415.95L115.2,416.03L115.7,416.11L116.2,416.18L116.7,416.25L117.2,416.31L117.7,416.37L118.2,416.42L118.7,416.47L119.2,416.52L119.7,416.57L120.2,416.61L120.7,416.65L121.2,416.68L121.7,416.71L122.2,416.75L122.7,416.78L123.2,416.80L123.7,416.83L124.2,416.85L124.7,416.87L125.2,416.90L125.7,416.92L126.2,416.93L126.2,417.02L125.7,417.01L125.2,417.00L124.7,417.00L124.2,416.99L123.7,416.98L123.2,416.97L122.7,416.96L122.2,416.96L121.7,416.95L121.2,416.94L120.7,416.93L120.2,416.92L119.7,416.92L119.2,416.91L118.7,416.90L118.2,416.89L117.7,416.88L117.2,416.88L116.7,416.87L116.2,416.86L115.7,416.85L115.2,416.84L114.7,416.84L114.2,416.83L113.7,416.82L113.2,416.81L112.7,416.80L112.2,416.80L111.7,416.79L111.2,416.78L110.7,416.77L110.2,416.76L109.7,416.76L109.2,416.75L108.7,416.74L108.2,416.73L107.7,416.72L107.2,416.72L106.7,416.71L106.2,416.70L105.7,416.69L105.2,416.68L104.7,416.68L104.2,416.67L103.7,416.66L103.2,416.65L102.7,416.64L102.2,416.64L101.7,416.63L101.2,416.62L100.7,416.61L100.2,416.60L99.7,416.60L99.2,416.59L98.7,416.58L98.2,416.57L97.7,416.56L97.2,416.56L96.7,416.55L96.2,416.54L95.7,416.53L95.2,416.52L94.7,416.52L94.2,416.51L93.7,416.50L93.2,416.49L92.7,416.48L92.2,416.48L91.7,416.47L91.2,416.46L90.7,416.45L90.2,416.44L89.7,416.44L89.2,416.43L88.7,416.42L88.2,416.41L87.7,416.40L87.2,416.40L86.7,416.39L86.2,416.38L85.7,416.37L85.2,416.36L84.7,416.36L84.2,416.35L83.7,416.34L83.2,416.33L82.7,416.32L82.2,416.32L81.7,416.31L81.2,416.30L80.7,416.29L80.2,416.28L79.7,416.28L79.2,416.27L78.7,416.26L78.2,416.25L77.7,416.24L77.2,416.24L76.7,416.23L76.2,416.22L75.7,416.21L75.2,416.20L74.7,416.20L74.2,416.19L73.7,416.18L73.2,416.17L72.7,416.16L72.2,416.16L71.7,416.15L71.2,416.14L70.7,416.13L70.2,416.12L69.7,416.12L69.2,416.11L68.7,416.10L68.2,416.09L67.7,416.08L67.2,416.08L66.7,416.07L66.2,416.06L65.7,416.05L65.2,416.04L64.7,416.04L64.2,416.03L63.7,416.02L63.2,416.01L62.7,416.00L62.2,416.00L61.7,415.99L61.2,415.98L60.7,415.97L60.2,415.96L59.7,415.96L59.2,415.95L58.7,415.94L58.2,415.93L57.7,415.92L57.2,415.92L56.7,415.91L56.2,415.90L55.7,415.89L55.2,415.88L54.7,415.88L54.2,415.87L53.7,415.86L53.2,415.85L52.7,415.84L52.2,415.84L51.7,415.83L51.2,415.82L50.7,415.81L50.2,415.80L49.7,415.80L49.2,415.79L48.7,415.78L48.2,415.77L47.7,415.76L47.2,415.76L46.7,415.75L46.2,415.74L45.7,415.73L45.2,415.72L44.7,415.72L44.2,415.71L43.7,415.70L43.2,415.69L42.7,415.68L42.2,415.68L41.7,415.67L41.2,415.66L40.7,415.65L40.2,415.64L39.7,415.64Z" fill="#f17e1a" fill-opacity="0.7"/>
<path d="M24.7,415.40L25.2,415.40L25.7,415.41L26.2,415.42L26.7,415.43L27.2,415.44L27.7,415.44L28.2,415.45L28.7,415.46L29.2,415.47L29.7,415.48L30.2,415.48L30.7,415.49L31.2,415.50L31.7,415.51L32.2,415.52L32.7,415.52L33.2,415.53L33.7,415.54L34.2,415.55L34.7,415.56L35.2,415.56L35.7,415.57L36.2,415.58L36.7,415.59L37.2,415.60L37.7,415.60L38.2,415.61L38.7,415.62L39.2,415.63L39.7,415.64L40.2,415.64L40.7,415.65L41.2,415.66L41.7,415.67L42.2,415.68L42.7,415.68L43.2,415.69L43.7,415.70L44.2,415.71L44.7,415.72L45.2,415.72L45.7,415.73L46.2,415.74L46.7,415.75L47.2,415.76L47.7,415.76L48.2,415.77L48.7,415.78L49.2,415.79L49.7,415.80L50.2,415.80L50.7,415.81L51.2,415.82L51.7,415.83L52.2,415.84L52.7,415.84L53.2,415.85L53.7,415.86L54.2,415.87L54.7,415.88L55.2,415.88L55.7,415.89L56.2,415.90L56.7,415.91L57.2,415.92L57.7,415.92L58.2,415.93L58.7,415.94L59.2,415.95L59.7,415.96L60.2,415.96L60.7,415.97L61.2,415.98L61.7,415.99L62.2,416.00L62.7,416.00L63.2,416.01L63.7,416.02L64.2,416.03L64.7,416.04L65.2,416.04L65.7,416.05L66.2,416.06L66.7,416.07L67.2,416.08L67.7,416.08L68.2,416.09L68.7,416.10L69.2,416.11L69.7,416.12L70.2,416.12L70.7,416.13L71.2,416.14L71.7,416.15L72.2,416.16L72.7,416.16L73.2,416.17L73.7,416.18L74.2,416.19L74.7,416.20L75.2,416.20L75.7,416.21L76.2,416.22L76.7,416.23L77.2,416.24L77.7,416.24L78.2,416.25L78.7,416.26L79.2,416.27L79.7,416.28L80.2,416.28L80.7,416.29L81.2,416.30L81.7,416.31L82.2,416.32L82.7,416.32L83.2,416.33L83.7,416.34L84.2,416.35L84.7,416.36L85.2,416.36L85.7,416.37L86.2,416.38L86.7,416.39L87.2,416.40L87.7,416.40L88.2,416.41L88.7,416.42L89.2,416.43L89.7,416.44L90.2,416.44L90.7,416.45L91.2,416.46L91.7,416.47L92.2,416.48L92.7,416.48L93.2,416.49L93.7,416.50L94.2,416.51L94.7,416.52L95.2,416.52L95.7,416.53L96.2,416.54L96.7,416.55L97.2,416.56L97.7,416.56L98.2,416.57L98.7,416.58L99.2,416.59L99.7,416.60L100.2,416.60L100.7,416.61L101.2,416.62L101.7,416.63L102.2,416.64L102.7,416.64L103.2,416.65L103.7,416.66L104.2,416.67L104.7,416.68L105.2,416.68L105.7,416.69L106.2,416.70L106.7,416.71L107.2,416.72L107.7,416.72L108.2,416.73L108.7,416.74L109.2,416.75L109.7,416.76L110.2,416.76L110.7,416.77L111.2,416.78L111.7,416.79L112.2,416.80L112.7,416.80L113.2,416.81L113.7,416.82L114.2,416.83L114.7,416.84L115.2,416.84L115.7,416.85L116.2,416.86L116.7,416.87L117.2,416.88L117.7,416.88L118.2,416.89L118.7,416.90L119.2,416.91L119.7,416.92L120.2,416.92L120.7,416.93L121.2,416.94L121.7,416.95L122.2,416.96L122.7,416.96L123.2,416.97L123.7,416.98L124.2,416.99L124.7,417.00L125.2,417.00L125.7,417.01L126.2,417.02L126.7,417.03L127.2,417.04L127.7,417.04L128.2,417.05L128.7,417.06L129.2,417.07L129.7,417.08L130.2,417.08L130.7,417.09L131.2,417.10L131.7,417.11L132.2,417.12L132.7,417.12L133.2,417.13L133.7,417.14L134.2,417.15L134.7,417.16L135.2,417.16L135.7,417.17L136.2,417.18L136.7,417.19L137.2,417.20L137.7,417.20L138.2,417.21L138.7,417.22L139.2,417.23L139.7,417.24L140.2,417.24L140.7,417.25L141.2,417.26L141.7,417.27L142.2,417.28L142.7,417.28L143.2,417.29L143.7,417.30L144.2,417.31L144.7,417.32L145.2,417.32L145.7,417.33L146.2,417.34L146.7,417.35L147.2,417.36L147.7,417.36L148.2,417.37L148.7,417.38L149.2,417.39L149.7,417.40L150.2,417.40L150.7,417.41L151.2,417.42L151.7,417.43L152.2,417.44L152.7,417.44L153.2,417.45L153.7,417.46L154.2,417.47L154.7,417.48L155.2,417.48L155.7,417.49L156.2,417.50L156.7,417.51L157.2,417.52L157.7,417.52L158.2,417.53L158.7,417.54L159.2,417.55L159.7,417.56L160.2,417.56L160.7,417.57L161.2,417.58L161.7,417.59L162.2,417.60L162.7,417.60L163.2,417.61L163.7,417.62L164.2,417.63L164.7,417.64L165.2,417.64L165.7,417.65L166.2,417.66L166.7,417.67L167.2,417.68L167.7,417.68L168.2,417.69L168.7,417.70L169.2,417.71L169.7,417.72L170.2,417.72L170.7,417.73L171.2,417.74L171.7,417.75L172.2,417.76L172.7,417.76L173.2,417.77L173.7,417.78L174.2,417.79L174.7,417.80L175.2,417.80L175.7,417.81L176.2,417.82L176.7,417.83L177.2,417.84L177.7,417.84L178.2,417.85L178.7,417.86L179.2,417.87L179.7,417.88L180.2,417.88L180.7,417.89L181.2,417.90L181.7,417.91L182.2,417.92L182.7,417.92L183.2,417.93L183.7,417.94L184.2,417.95L184.7,417.96L185.2,417.96L185.7,417.97L186.2,417.98L186.7,417.99L187.2,418.00L187.7,418.00L188.2,418.01L188.7,418.02L189.2,418.03L189.7,418.04L190.2,418.04L190.7,418.05L191.2,418.06L191.7,418.07L192.2,418.08L192.7,418.08L193.2,418.09L193.7,418.10L194.2,418.11L194.7,418.12L195.2,418.12L195.7,418.13L196.2,418.14L196.7,418.15L197.2,418.16L197.7,418.16L198.2,418.17L198.7,418.18L199.2,418.19L199.7,418.20L200.2,418.20L200.7,418.21L201.2,418.22L201.7,418.23L202.2,418.24L202.7,418.24L203.2,418.25L203.7,418.26L204.2,418.27L204.7,418.28L205.2,418.28L205.7,418.29L206.2,418.30L206.7,418.31L207.2,418.32L207.7,418.32L208.2,418.33L208.7,418.34L209.2,418.35L209.7,418.36L210.2,418.36L210.7,418.37L211.2,418.38L211.7,418.39L212.2,418.40L212.7,418.40L213.2,418.41L213.7,418.42L214.2,418.43L214.7,418.44L215.2,418.44L215.7,418.45L216.2,418.46L216.7,418.47L217.2,418.48L217.7,418.48L218.2,418.49L218.7,418.50L219.2,418.51L219.7,418.52L220.2,418.52L220.7,418.53L221.2,418.54L221.7,418.55L222.2,418.56L222.7,418.56L223.2,418.57L223.7,418.58L224.2,418.59L224.7,418.60L225.2,418.60L225.7,418.61L226.2,418.62L226.7,418.63L227.2,418.64L227.7,418.64L228.2,418.65L228.7,418.66L229.2,418.67L229.7,418.68L230.2,418.68L230.7,418.69L231.2,418.70L231.7,418.71L232.2,418.72L232.7,418.72L233.2,418.73L233.7,418.74L234.2,418.75L234.7,418.76L235.2,418.76L235.7,418.77L236.2,418.78L236.7,418.79L237.2,418.80L237.7,418.80L238.2,418.81L238.7,418.82L239.2,418.83L239.7,418.84L240.2,418.84L240.7,418.85L241.2,418.86L241.7,418.87L242.2,418.88L242.7,418.88L243.2,418.89L243.7,418.90L244.2,418.91L244.7,418.92L245.2,418.92L245.7,418.93L246.2,418.94L246.7,418.95L247.2,418.96L247.7,418.96L248.2,418.97L248.7,418.98L249.2,418.99L249.7,419.00L250.2,419.00L250.7,419.01L251.2,419.02L251.7,419.03L252.2,419.04L252.7,419.04L253.2,419.05L253.7,419.06L254.2,419.07L254.7,419.08L255.2,419.08L255.7,419.09L256.2,419.10L256.7,419.11L257.2,419.12L257.7,419.12L258.2,419.13L258.7,419.14L259.2,419.15L259.7,419.16L260.2,419.16L260.7,419.17L261.2,419.18L261.7,419.19L262.2,419.20L262.7,419.20L263.2,419.21L263.7,419.22" fill="none" stroke="#dba22a" stroke-width="1.1"/>
<path d="M24.7,410.98L25.2,411.12L25.7,411.63L26.2,411.63L26.7,411.69L27.2,411.86L27.7,411.61L28.2,411.75L28.7,411.99L29.2,412.34L29.7,411.91L30.2,411.75L30.7,411.42L31.2,411.88L31.7,412.15L32.2,411.73L32.7,412.34L33.2,412.81L33.7,412.87L34.2,412.88L34.7,412.57L35.2,412.34L35.7,412.81L36.2,412.81L36.7,413.01L37.2,413.22L37.7,413.12L38.2,413.36L38.7,413.52L39.2,414.07L39.7,414.22L40.2,414.48L40.7,414.57L41.2,414.83L41.7,414.86L42.2,414.72L42.7,415.34L43.2,415.85L43.7,416.11L44.2,416.18L44.7,415.85L45.2,415.48L45.7,415.23L46.2,414.77L46.7,415.01L47.2,414.72L47.7,414.84L48.2,414.40L48.7,414.58L49.2,414.59L49.7,413.77L50.2,413.38L50.7,413.65L51.2,413.27L51.7,413.32L52.2,412.64L52.7,411.63L53.2,411.24L53.7,410.94L54.2,410.07L54.7,409.10L55.2,408.49L55.7,408.62L56.2,408.53L56.7,407.71L57.2,407.06L57.7,406.27L58.2,405.48L58.7,405.50L59.2,404.83L59.7,404.66L60.2,404.44L60.7,404.08L61.2,404.43L61.7,404.15L62.2,404.47L62.7,404.19L63.2,404.22L63.7,403.96L64.2,403.70L64.7,404.18L65.2,404.42L65.7,404.12L66.2,404.47L66.7,404.06L67.2,403.89L67.7,404.15L68.2,404.09L68.7,403.51L69.2,403.95L69.7,403.54L70.2,403.28L70.7,403.58L71.2,403.37L71.7,403.15L72.2,402.71L72.7,402.32L73.2,402.44L73.7,402.13L74.2,402.19L74.7,401.96L75.2,401.81L75.7,402.14L76.2,401.89L76.7,401.75L77.2,401.91L77.7,401.33L78.2,400.84L78.7,401.21L79.2,401.37L79.7,400.89L80.2,400.39L80.7,400.50L81.2,400.73L81.7,400.13L82.2,400.38L82.7,400.48L83.2,400.26L83.7,399.88L84.2,399.25L84.7,398.67L85.2,399.12L85.7,398.75L86.2,398.92L86.7,398.63L87.2,399.06L87.7,399.32L88.2,399.36L88.7,399.39L89.2,400.04L89.7,399.96L90.2,400.05L90.7,400.41L91.2,400.92L91.7,401.21L92.2,401.29L92.7,402.13L93.2,402.20L93.7,402.11L94.2,402.28L94.7,402.50L95.2,402.11L95.7,401.72L96.2,401.43L96.7,401.27L97.2,400.64L97.7,400.37L98.2,400.76L98.7,401.07L99.2,400.88L99.7,400.67L100.2,400.32L100.7,399.54L101.2,398.78L101.7,398.13L102.2,398.50L102.7,398.57L103.2,398.84L103.7,398.07L104.2,398.01L104.7,397.76L105.2,397.74L105.7,397.24L106.2,397.44L106.7,396.59L107.2,396.29L107.7,396.13L108.2,396.04L108.7,395.68L109.2,395.22L109.7,394.79L110.2,394.40L110.7,393.37L111.2,392.73L111.7,392.30L112.2,391.78L112.7,390.76L113.2,390.18L113.7,389.63L114.2,388.74L114.7,387.93L115.2,386.89L115.7,386.10L116.2,385.31L116.7,383.98L117.2,383.27L117.7,382.84L118.2,382.19L118.7,381.33L119.2,380.12L119.7,379.33L120.2,378.36L120.7,377.26L121.2,376.62L121.7,375.17L122.2,374.51L122.7,373.09L123.2,372.35L123.7,371.45L124.2,370.30L124.7,369.67L125.2,368.80L125.7,367.97L126.2,367.30L126.7,366.18L127.2,364.95L127.7,363.94L128.2,363.16L128.7,362.05L129.2,360.95L129.7,360.34L130.2,359.56L130.7,358.70L131.2,358.21L131.7,357.46L132.2,357.07L132.7,356.47L133.2,356.13L133.7,356.06L134.2,356.07L134.7,356.02L135.2,355.60L135.7,355.27L136.2,354.69L136.7,353.96L137.2,353.43L137.7,353.02L138.2,352.52L138.7,351.83L139.2,351.17L139.7,350.02L140.2,348.84L140.7,347.82L141.2,346.65L141.7,345.40L142.2,344.23L142.7,343.13L143.2,341.84L143.7,340.36L144.2,339.16L144.7,337.94L145.2,336.28L145.7,334.36L146.2,332.41L146.7,330.99L147.2,328.99L147.7,327.41L148.2,325.71L148.7,323.76L149.2,322.05L149.7,319.76L150.2,317.54L150.7,315.48L151.2,313.05L151.7,311.03L152.2,308.71L152.7,306.02L153.2,303.21L153.7,300.48L154.2,297.66L154.7,294.85L155.2,292.00L155.7,289.18L156.2,286.41L156.7,283.59L157.2,280.75L157.7,278.07L158.2,275.44L158.7,272.96L159.2,270.78L159.7,268.86L160.2,267.07L160.7,265.60L161.2,264.48L161.7,263.84L162.2,263.70L162.7,263.97L163.2,264.64L163.7,265.54L164.2,266.75L164.7,268.19L165.2,269.69L165.7,271.60L166.2,273.63L166.7,275.71L167.2,277.98L167.7,280.39L168.2,282.94L168.7,285.44L169.2,288.08L169.7,290.84L170.2,293.59L170.7,296.29L171.2,298.91L171.7,301.62L172.2,304.30L172.7,307.22L173.2,310.27L173.7,313.33L174.2,316.48L174.7,319.59L175.2,322.92L175.7,326.30L176.2,329.69L176.7,333.00L177.2,336.36L177.7,339.64L178.2,343.08L178.7,346.50L179.2,349.79L179.7,352.98L180.2,356.18L180.7,359.28L181.2,362.26L181.7,365.05L182.2,367.62L182.7,370.26L183.2,372.65L183.7,375.13L184.2,377.40L184.7,379.69L185.2,382.06L185.7,384.24L186.2,386.37L186.7,388.52L187.2,390.60L187.7,392.58L188.2,394.37L188.7,396.06L189.2,397.53L189.7,398.98L190.2,400.15L190.7,401.31L191.2,402.48L191.7,403.57L192.2,404.74L192.7,405.88L193.2,406.99L193.7,408.16L194.2,409.20L194.7,410.09L195.2,410.90L195.7,411.96L196.2,412.88L196.7,412.98L197.2,413.76L197.7,414.55L198.2,414.79L198.7,415.07L199.2,414.96L199.7,415.24L200.2,415.46L200.7,415.84L201.2,415.68L201.7,416.58L202.2,416.93L202.7,417.16L203.2,417.80L203.7,418.09L204.2,418.26L204.7,418.55L205.2,418.09L205.7,418.03L206.2,417.68L206.7,417.78L207.2,417.67L207.7,416.78L208.2,416.14L208.7,415.19L209.2,414.67L209.7,414.60L210.2,414.63L210.7,413.90L211.2,412.81L211.7,411.53L212.2,410.75L212.7,410.36L213.2,409.29L213.7,409.24L214.2,408.85L214.7,409.13L215.2,409.71L215.7,410.82L216.2,411.37L216.7,411.67L217.2,411.79L217.7,411.25L218.2,411.40L218.7,410.88L219.2,410.84L219.7,410.55L220.2,410.29L220.7,410.46L221.2,410.55L221.7,410.63L222.2,410.79L222.7,411.07L223.2,410.94L223.7,410.90L224.2,411.32L224.7,411.70L225.2,411.93L225.7,412.51L226.2,412.79L226.7,413.34L227.2,413.25L227.7,413.76L228.2,414.31L228.7,414.98L229.2,415.04L229.7,415.19L230.2,415.98L230.7,415.94L231.2,416.68L231.7,417.14L232.2,416.69L232.7,416.34L233.2,416.45L233.7,416.01L234.2,415.44L234.7,415.70L235.2,415.51L235.7,415.79L236.2,415.46L236.7,415.57L237.2,416.04L237.7,415.84L238.2,415.92L238.7,416.52L239.2,417.25L239.7,417.89L240.2,417.49L240.7,417.46L241.2,417.58L241.7,417.32L242.2,417.19L242.7,416.50L243.2,415.76L243.7,415.15L244.2,414.59L244.7,414.67L245.2,414.76L245.7,415.00L246.2,415.06L246.7,415.43L247.2,415.95L247.7,417.15L248.2,418.29L248.7,419.05L249.2,418.62L249.7,418.11L250.2,418.47L250.7,418.16L251.2,418.10L251.7,417.50L252.2,417.05L252.7,416.66L253.2,416.18L253.7,415.91L254.2,415.08L254.7,415.09L255.2,415.27L255.7,414.80L256.2,414.80L256.7,415.32L257.2,415.64L257.7,415.89L258.2,416.21L258.7,416.91L259.2,416.98L259.7,417.83L260.2,418.26L260.7,418.48L261.2,418.84L261.7,418.90L262.2,418.75L262.7,418.82L263.2,418.80L263.7,419.25" fill="none" stroke="#555" stroke-width="0.75"/>
<path d="M24.7,413.19L25.2,413.19L25.7,413.20L26.2,413.20L26.7,413.21L27.2,413.21L27.7,413.22L28.2,413.22L28.7,413.22L29.2,413.23L29.7,413.23L30.2,413.23L30.7,413.24L31.2,413.24L31.7,413.25L32.2,413.25L32.7,413.25L33.2,413.25L33.7,413.26L34.2,413.26L34.7,413.26L35.2,413.26L35.7,413.26L36.2,413.26L36.7,413.26L37.2,413.26L37.7,413.26L38.2,413.26L38.7,413.26L39.2,413.25L39.7,413.25L40.2,413.24L40.7,413.23L41.2,413.23L41.7,413.22L42.2,413.21L42.7,413.19L43.2,413.18L43.7,413.16L44.2,413.15L44.7,413.12L45.2,413.10L45.7,413.08L46.2,413.05L46.7,413.02L47.2,412.98L47.7,412.95L48.2,412.91L48.7,412.86L49.2,412.81L49.7,412.76L50.2,412.70L50.7,412.64L51.2,412.57L51.7,412.50L52.2,412.42L52.7,412.33L53.2,412.23L53.7,412.08L54.2,411.90L54.7,411.68L55.2,411.40L55.7,411.12L56.2,410.81L56.7,410.50L57.2,410.19L57.7,409.86L58.2,409.53L58.7,409.19L59.2,408.86L59.7,408.56L60.2,408.29L60.7,408.06L61.2,407.86L61.7,407.67L62.2,407.48L62.7,407.28L63.2,407.07L63.7,406.86L64.2,406.64L64.7,406.44L65.2,406.25L65.7,406.07L66.2,405.91L66.7,405.75L67.2,405.58L67.7,405.42L68.2,405.25L68.7,405.08L69.2,404.90L69.7,404.73L70.2,404.55L70.7,404.37L71.2,404.19L71.7,404.01L72.2,403.84L72.7,403.67L73.2,403.50L73.7,403.34L74.2,403.18L74.7,403.03L75.2,402.87L75.7,402.72L76.2,402.56L76.7,402.42L77.2,402.28L77.7,402.16L78.2,402.05L78.7,401.95L79.2,401.86L79.7,401.78L80.2,401.70L80.7,401.62L81.2,401.55L81.7,401.49L82.2,401.44L82.7,401.41L83.2,401.39L83.7,401.38L84.2,401.38L84.7,401.38L85.2,401.37L85.7,401.36L86.2,401.34L86.7,401.32L87.2,401.31L87.7,401.31L88.2,401.32L88.7,401.33L89.2,401.35L89.7,401.37L90.2,401.39L90.7,401.40L91.2,401.41L91.7,401.43L92.2,401.43L92.7,401.44L93.2,401.44L93.7,401.43L94.2,401.41L94.7,401.39L95.2,401.35L95.7,401.29L96.2,401.22L96.7,401.14L97.2,401.04L97.7,400.92L98.2,400.78L98.7,400.63L99.2,400.46L99.7,400.31L100.2,400.15L100.7,400.01L101.2,399.88L101.7,399.74L102.2,399.57L102.7,399.38L103.2,399.15L103.7,398.90L104.2,398.63L104.7,398.32L105.2,398.00L105.7,397.65L106.2,397.27L106.7,396.87L107.2,396.44L107.7,395.98L108.2,395.50L108.7,394.98L109.2,394.44L109.7,393.87L110.2,393.28L110.7,392.67L111.2,392.07L111.7,391.48L112.2,390.89L112.7,390.30L113.2,389.70L113.7,389.09L114.2,388.46L114.7,387.82L115.2,387.16L115.7,386.47L116.2,385.73L116.7,384.94L117.2,384.10L117.7,383.20L118.2,382.29L118.7,381.37L119.2,380.44L119.7,379.52L120.2,378.60L120.7,377.69L121.2,376.78L121.7,375.88L122.2,374.98L122.7,374.10L123.2,373.20L123.7,372.31L124.2,371.41L124.7,370.51L125.2,369.63L125.7,368.75L126.2,367.90L126.7,367.05L127.2,366.22L127.7,365.38L128.2,364.53L128.7,363.67L129.2,362.80L129.7,361.94L130.2,361.11L130.7,360.32L131.2,359.58L131.7,358.89L132.2,358.26L132.7,357.65L133.2,357.07L133.7,356.54L134.2,356.06L134.7,355.62L135.2,355.19L135.7,354.78L136.2,354.36L136.7,353.93L137.2,353.49L137.7,353.00L138.2,352.46L138.7,351.85L139.2,351.11L139.7,350.28L140.2,349.38L140.7,348.39L141.2,347.34L141.7,346.22L142.2,345.03L142.7,343.76L143.2,342.41L143.7,340.98L144.2,339.49L144.7,337.94L145.2,336.33L145.7,334.67L146.2,332.94L146.7,331.19L147.2,329.41L147.7,327.62L148.2,325.82L148.7,323.95L149.2,322.02L149.7,320.02L150.2,317.96L150.7,315.84L151.2,313.62L151.7,311.29L152.2,308.83L152.7,306.19L153.2,303.44L153.7,300.63L154.2,297.79L154.7,294.93L155.2,292.03L155.7,289.15L156.2,286.29L156.7,283.46L157.2,280.70L157.7,278.04L158.2,275.48L158.7,273.08L159.2,270.89L159.7,268.91L160.2,267.17L160.7,265.73L161.2,264.61L161.7,263.91L162.2,263.74L162.7,263.99L163.2,264.60L163.7,265.53L164.2,266.68L164.7,268.06L165.2,269.66L165.7,271.49L166.2,273.51L166.7,275.68L167.2,277.96L167.7,280.35L168.2,282.82L168.7,285.38L169.2,288.01L169.7,290.71L170.2,293.42L170.7,296.07L171.2,298.74L171.7,301.46L172.2,304.23L172.7,307.12L173.2,310.12L173.7,313.19L174.2,316.32L174.7,319.52L175.2,322.79L175.7,326.10L176.2,329.43L176.7,332.78L177.2,336.13L177.7,339.49L178.2,342.88L178.7,346.27L179.2,349.63L179.7,352.94L180.2,356.16L180.7,359.25L181.2,362.19L181.7,364.99L182.2,367.67L182.7,370.24L183.2,372.71L183.7,375.12L184.2,377.46L184.7,379.77L185.2,382.07L185.7,384.33L186.2,386.54L186.7,388.69L187.2,390.73L187.7,392.67L188.2,394.48L188.7,396.14L189.2,397.67L189.7,399.10L190.2,400.43L190.7,401.68L191.2,402.87L191.7,404.00L192.2,405.12L192.7,406.23L193.2,407.32L193.7,408.38L194.2,409.38L194.7,410.27L195.2,411.04L195.7,411.69L196.2,412.22L196.7,412.69L197.2,413.10L197.7,413.48L198.2,413.83L198.7,414.14L199.2,414.44L199.7,414.71L200.2,414.97L200.7,415.22L201.2,415.46L201.7,415.68L202.2,415.88L202.7,416.06L203.2,416.22L203.7,416.36L204.2,416.47L204.7,416.56L205.2,416.61L205.7,416.62L206.2,416.60L206.7,416.55L207.2,416.47L207.7,416.35L208.2,416.20L208.7,416.02L209.2,415.79L209.7,415.53L210.2,415.23L210.7,414.91L211.2,414.58L211.7,414.26L212.2,413.96L212.7,413.68L213.2,413.44L213.7,413.19L214.2,412.94L214.7,412.68L215.2,412.42L215.7,412.17L216.2,411.93L216.7,411.70L217.2,411.50L217.7,411.32L218.2,411.16L218.7,411.04L219.2,410.95L219.7,410.91L220.2,410.91L220.7,410.97L221.2,411.06L221.7,411.19L222.2,411.34L222.7,411.50L223.2,411.67L223.7,411.86L224.2,412.06L224.7,412.28L225.2,412.52L225.7,412.78L226.2,413.07L226.7,413.39L227.2,413.73L227.7,414.06L228.2,414.38L228.7,414.68L229.2,414.95L229.7,415.18L230.2,415.37L230.7,415.52L231.2,415.64L231.7,415.74L232.2,415.83L232.7,415.92L233.2,416.00L233.7,416.09L234.2,416.17L234.7,416.26L235.2,416.36L235.7,416.45L236.2,416.55L236.7,416.65L237.2,416.75L237.7,416.85L238.2,416.95L238.7,417.05L239.2,417.15L239.7,417.24L240.2,417.34L240.7,417.43L241.2,417.51L241.7,417.59L242.2,417.65L242.7,417.72L243.2,417.77L243.7,417.82L244.2,417.86L244.7,417.90L245.2,417.95L245.7,418.00L246.2,418.06L246.7,418.11L247.2,418.16L247.7,418.20L248.2,418.24L248.7,418.28L249.2,418.31L249.7,418.35L250.2,418.37L250.7,418.40L251.2,418.43L251.7,418.45L252.2,418.47L252.7,418.49L253.2,418.52L253.7,418.54L254.2,418.56L254.7,418.58L255.2,418.59L255.7,418.61L256.2,418.63L256.7,418.65L257.2,418.67L257.7,418.69L258.2,418.71L258.7,418.73L259.2,418.75L259.7,418.76L260.2,418.78L260.7,418.80L261.2,418.82L261.7,418.84L262.2,418.86L262.7,418.88L263.2,418.89L263.7,418.91" fill="none" stroke="#22b2b0" stroke-width="1.2"/>
<rect x="24.7" y="246.15" width="239.00" height="192.75" fill="none" stroke="#111" stroke-width="1.45"/>
<line x1="24.7" y1="256.86" x2="28.099999999999998" y2="256.86" stroke="#111" stroke-width="1.1"/>
<line x1="24.7" y1="267.57" x2="26.5" y2="267.57" stroke="#111" stroke-width="1.1"/>
<line x1="24.7" y1="278.27" x2="28.099999999999998" y2="278.27" stroke="#111" stroke-width="1.1"/>
<line x1="24.7" y1="288.98" x2="26.5" y2="288.98" stroke="#111" stroke-width="1.1"/>
<line x1="24.7" y1="299.69" x2="28.099999999999998" y2="299.69" stroke="#111" stroke-width="1.1"/>
<line x1="24.7" y1="310.40" x2="26.5" y2="310.40" stroke="#111" stroke-width="1.1"/>
<line x1="24.7" y1="321.11" x2="28.099999999999998" y2="321.11" stroke="#111" stroke-width="1.1"/>
<line x1="24.7" y1="331.82" x2="26.5" y2="331.82" stroke="#111" stroke-width="1.1"/>
<line x1="24.7" y1="342.52" x2="28.099999999999998" y2="342.52" stroke="#111" stroke-width="1.1"/>
<line x1="24.7" y1="353.23" x2="26.5" y2="353.23" stroke="#111" stroke-width="1.1"/>
<line x1="24.7" y1="363.94" x2="28.099999999999998" y2="363.94" stroke="#111" stroke-width="1.1"/>
<line x1="24.7" y1="374.65" x2="26.5" y2="374.65" stroke="#111" stroke-width="1.1"/>
<line x1="24.7" y1="385.36" x2="28.099999999999998" y2="385.36" stroke="#111" stroke-width="1.1"/>
<line x1="24.7" y1="396.07" x2="26.5" y2="396.07" stroke="#111" stroke-width="1.1"/>
<line x1="24.7" y1="406.77" x2="28.099999999999998" y2="406.77" stroke="#111" stroke-width="1.1"/>
<line x1="24.7" y1="417.48" x2="26.5" y2="417.48" stroke="#111" stroke-width="1.1"/>
<line x1="24.7" y1="428.19" x2="28.099999999999998" y2="428.19" stroke="#111" stroke-width="1.1"/>
<line x1="62.70" y1="438.9" x2="62.70" y2="435.5" stroke="#111" stroke-width="1.1"/>
<line x1="100.96" y1="438.9" x2="100.96" y2="435.5" stroke="#111" stroke-width="1.1"/>
<line x1="139.22" y1="438.9" x2="139.22" y2="435.5" stroke="#111" stroke-width="1.1"/>
<line x1="177.48" y1="438.9" x2="177.48" y2="435.5" stroke="#111" stroke-width="1.1"/>
<line x1="215.74" y1="438.9" x2="215.74" y2="435.5" stroke="#111" stroke-width="1.1"/>
<line x1="254.00" y1="438.9" x2="254.00" y2="435.5" stroke="#111" stroke-width="1.1"/>
<line x1="43.57" y1="438.9" x2="43.57" y2="437.09999999999997" stroke="#111" stroke-width="1.1"/>
<line x1="81.83" y1="438.9" x2="81.83" y2="437.09999999999997" stroke="#111" stroke-width="1.1"/>
<line x1="120.09" y1="438.9" x2="120.09" y2="437.09999999999997" stroke="#111" stroke-width="1.1"/>
<line x1="158.35" y1="438.9" x2="158.35" y2="437.09999999999997" stroke="#111" stroke-width="1.1"/>
<line x1="196.61" y1="438.9" x2="196.61" y2="437.09999999999997" stroke="#111" stroke-width="1.1"/>
<line x1="234.87" y1="438.9" x2="234.87" y2="437.09999999999997" stroke="#111" stroke-width="1.1"/>
<text x="24.4" y="449.4" font-size="8.0" text-anchor="middle" font-weight="bold" fill="#111" stroke="#111" stroke-width="0.22">292</text>
<text x="62.7" y="449.4" font-size="8.0" text-anchor="middle" font-weight="bold" fill="#111" stroke="#111" stroke-width="0.22">290</text>
<text x="101.0" y="449.4" font-size="8.0" text-anchor="middle" font-weight="bold" fill="#111" stroke="#111" stroke-width="0.22">288</text>
<text x="139.2" y="449.4" font-size="8.0" text-anchor="middle" font-weight="bold" fill="#111" stroke="#111" stroke-width="0.22">286</text>
<text x="177.5" y="449.4" font-size="8.0" text-anchor="middle" font-weight="bold" fill="#111" stroke="#111" stroke-width="0.22">284</text>
<text x="215.7" y="449.4" font-size="8.0" text-anchor="middle" font-weight="bold" fill="#111" stroke="#111" stroke-width="0.22">282</text>
<text x="254.0" y="449.4" font-size="8.0" text-anchor="middle" font-weight="bold" fill="#111" stroke="#111" stroke-width="0.22">280</text>
<text x="144.3" y="461.7" font-size="9.9" text-anchor="middle" font-weight="bold" fill="#111" stroke="#111" stroke-width="0.22">Binging Energy (eV)</text>
<text transform="translate(16.6,342.3) rotate(-90)" font-size="10.0" font-weight="bold" text-anchor="middle" fill="#111" stroke="#111" stroke-width="0.22">Instensity (a.u.)</text>
<text x="35.9" y="267.5" font-size="9.6" text-anchor="start" font-weight="bold" fill="#3a3a3a" stroke="#3a3a3a" stroke-width="0.22">(c)</text>
<text x="233.7" y="260.9" font-size="10" text-anchor="start" font-weight="normal" fill="#222" >C 1s</text>
<text x="152.2" y="260.2" font-size="9.8" text-anchor="start" font-weight="normal" fill="#8a6cb4" >C-C</text>
<text x="104.4" y="339.6" font-size="9.8" text-anchor="start" font-weight="normal" fill="#66bb66" >C-O</text>
<text x="57.6" y="371.3" font-size="9.8" text-anchor="start" font-weight="normal" fill="#ef8f3a" >O-C=O</text>
<text x="217.1" y="404.0" font-size="9.8" text-anchor="start" font-weight="normal" fill="#3f7fd8" >Ti-C</text>
<path d="M416.6,407.67L417.1,407.70L417.6,407.73L418.1,407.77L418.6,407.79L419.1,407.82L419.6,407.85L420.1,407.87L420.6,407.89L421.1,407.91L421.6,407.93L422.1,407.94L422.6,407.95L423.1,407.96L423.6,407.96L424.1,407.96L424.6,407.96L425.1,407.95L425.6,407.93L426.1,407.91L426.6,407.88L427.1,407.85L427.6,407.80L428.1,407.75L428.6,407.70L429.1,407.63L429.6,407.55L430.1,407.46L430.6,407.36L431.1,407.25L431.6,407.13L432.1,406.99L432.6,406.84L433.1,406.68L433.6,406.50L434.1,406.30L434.6,406.08L435.1,405.85L435.6,405.60L436.1,405.32L436.6,405.03L437.1,404.71L437.6,404.38L438.1,404.01L438.6,403.63L439.1,403.21L439.6,402.77L440.1,402.31L440.6,401.81L441.1,401.29L441.6,400.74L442.1,400.16L442.6,399.54L443.1,398.90L443.6,398.22L444.1,397.52L444.6,396.78L445.1,396.01L445.6,395.20L446.1,394.36L446.6,393.50L447.1,392.59L447.6,391.66L448.1,390.70L448.6,389.71L449.1,388.68L449.6,387.63L450.1,386.55L450.6,385.44L451.1,384.31L451.6,383.16L452.1,381.98L452.6,380.78L453.1,379.57L453.6,378.33L454.1,377.09L454.6,375.83L455.1,374.56L455.6,373.29L456.1,372.02L456.6,370.74L457.1,369.46L457.6,368.19L458.1,366.93L458.6,365.68L459.1,364.44L459.6,363.23L460.1,362.03L460.6,360.86L461.1,359.71L461.6,358.60L462.1,357.52L462.6,356.48L463.1,355.48L463.6,354.53L464.1,353.62L464.6,352.76L465.1,351.95L465.6,351.20L466.1,350.50L466.6,349.87L467.1,349.30L467.6,348.79L468.1,348.35L468.6,347.97L469.1,347.67L469.6,347.43L470.1,347.26L470.6,347.17L471.1,347.15L471.6,347.20L472.1,347.31L472.6,347.50L473.1,347.75L473.6,348.06L474.1,348.44L474.6,348.89L475.1,349.40L475.6,349.97L476.1,350.60L476.6,351.28L477.1,352.02L477.6,352.81L478.1,353.66L478.6,354.54L479.1,355.48L479.6,356.45L480.1,357.47L480.6,358.52L481.1,359.60L481.6,360.72L482.1,361.85L482.6,363.02L483.1,364.20L483.6,365.40L484.1,366.61L484.6,367.84L485.1,369.07L485.6,370.31L486.1,371.55L486.6,372.79L487.1,374.02L487.6,375.26L488.1,376.48L488.6,377.69L489.1,378.89L489.6,380.08L490.1,381.25L490.6,382.41L491.1,383.54L491.6,384.65L492.1,385.74L492.6,386.81L493.1,387.86L493.6,388.88L494.1,389.87L494.6,390.84L495.1,391.78L495.6,392.69L496.1,393.57L496.6,394.43L497.1,395.26L497.6,396.06L498.1,396.84L498.6,397.58L499.1,398.30L499.6,399.00L500.1,399.66L500.6,400.30L501.1,400.92L501.6,401.51L502.1,402.07L502.6,402.62L503.1,403.14L503.6,403.63L504.1,404.11L504.6,404.56L505.1,405.00L505.6,405.41L506.1,405.81L506.6,406.19L507.1,406.55L507.6,406.89L508.1,407.22L508.6,407.53L509.1,407.83L509.6,408.11L510.1,408.38L510.6,408.64L511.1,408.88L511.6,409.11L512,409.34L512.5,409.55L513,409.75L513.5,409.94L514,410.12L514.5,410.29L515,410.46L515.5,410.61L516,410.76L516.5,410.91L517,411.04L517.5,411.17L518,411.29L518.5,411.41L519,411.52L519.5,411.62L520,411.72L520.5,411.82L521,411.91L521.5,411.99L522,412.08L522.5,412.15L523,412.23L523.5,412.30L524,412.36L524.5,412.43L525,412.49L525.5,412.55L526,412.60L526.5,412.65L527,412.70L527.5,412.75L528,412.79L528.5,412.83L529,412.87L529.5,412.91L530,412.94L530.5,412.98L531,413.01L531.5,413.04L532,413.07L532.5,413.09L533,413.12L533.5,413.14L534,413.17L534.5,413.19L535,413.21L535.5,413.23L536,413.24L536.5,413.26L537,413.28L537.5,413.29L538,413.31L538.5,413.32L539,413.33L539.5,413.34L540,413.35L540,413.50L539.5,413.50L539,413.50L538.5,413.50L538,413.50L537.5,413.50L537,413.50L536.5,413.50L536,413.50L535.5,413.50L535,413.50L534.5,413.50L534,413.50L533.5,413.50L533,413.50L532.5,413.50L532,413.50L531.5,413.50L531,413.50L530.5,413.50L530,413.50L529.5,413.50L529,413.50L528.5,413.49L528,413.49L527.5,413.49L527,413.49L526.5,413.49L526,413.49L525.5,413.49L525,413.49L524.5,413.49L524,413.49L523.5,413.49L523,413.49L522.5,413.49L522,413.49L521.5,413.49L521,413.49L520.5,413.48L520,413.48L519.5,413.48L519,413.48L518.5,413.48L518,413.48L517.5,413.48L517,413.48L516.5,413.48L516,413.47L515.5,413.47L515,413.47L514.5,413.47L514,413.47L513.5,413.47L513,413.46L512.5,413.46L512,413.46L511.6,413.46L511.1,413.45L510.6,413.45L510.1,413.45L509.6,413.45L509.1,413.44L508.6,413.44L508.1,413.44L507.6,413.43L507.1,413.43L506.6,413.43L506.1,413.42L505.6,413.42L505.1,413.41L504.6,413.41L504.1,413.41L503.6,413.40L503.1,413.40L502.6,413.39L502.1,413.38L501.6,413.38L501.1,413.37L500.6,413.37L500.1,413.36L499.6,413.35L499.1,413.34L498.6,413.34L498.1,413.33L497.6,413.32L497.1,413.31L496.6,413.30L496.1,413.29L495.6,413.28L495.1,413.27L494.6,413.26L494.1,413.25L493.6,413.24L493.1,413.23L492.6,413.21L492.1,413.20L491.6,413.19L491.1,413.17L490.6,413.16L490.1,413.14L489.6,413.13L489.1,413.11L488.6,413.09L488.1,413.08L487.6,413.06L487.1,413.04L486.6,413.02L486.1,413.00L485.6,412.98L485.1,412.96L484.6,412.94L484.1,412.91L483.6,412.89L483.1,412.87L482.6,412.84L482.1,412.82L481.6,412.79L481.1,412.77L480.6,412.74L480.1,412.71L479.6,412.69L479.1,412.66L478.6,412.63L478.1,412.60L477.6,412.57L477.1,412.54L476.6,412.51L476.1,412.48L475.6,412.45L475.1,412.41L474.6,412.38L474.1,412.35L473.6,412.32L473.1,412.28L472.6,412.25L472.1,412.21L471.6,412.18L471.1,412.14L470.6,412.11L470.1,412.07L469.6,412.04L469.1,412.00L468.6,411.97L468.1,411.93L467.6,411.89L467.1,411.86L466.6,411.82L466.1,411.78L465.6,411.75L465.1,411.71L464.6,411.67L464.1,411.64L463.6,411.60L463.1,411.56L462.6,411.52L462.1,411.49L461.6,411.45L461.1,411.41L460.6,411.38L460.1,411.34L459.6,411.30L459.1,411.27L458.6,411.23L458.1,411.19L457.6,411.16L457.1,411.12L456.6,411.08L456.1,411.05L455.6,411.01L455.1,410.97L454.6,410.94L454.1,410.90L453.6,410.86L453.1,410.83L452.6,410.79L452.1,410.75L451.6,410.72L451.1,410.68L450.6,410.64L450.1,410.60L449.6,410.57L449.1,410.53L448.6,410.49L448.1,410.45L447.6,410.42L447.1,410.38L446.6,410.34L446.1,410.30L445.6,410.27L445.1,410.23L444.6,410.19L444.1,410.15L443.6,410.11L443.1,410.07L442.6,410.03L442.1,409.99L441.6,409.95L441.1,409.91L440.6,409.87L440.1,409.83L439.6,409.79L439.1,409.75L438.6,409.71L438.1,409.67L437.6,409.62L437.1,409.58L436.6,409.54L436.1,409.50L435.6,409.46L435.1,409.41L434.6,409.37L434.1,409.33L433.6,409.28L433.1,409.24L432.6,409.19L432.1,409.15L431.6,409.11L431.1,409.06L430.6,409.02L430.1,408.97L429.6,408.93L429.1,408.88L428.6,408.84L428.1,408.79L427.6,408.75L427.1,408.70L426.6,408.66L426.1,408.61L425.6,408.57L425.1,408.52L424.6,408.47L424.1,408.43L423.6,408.38L423.1,408.34L422.6,408.29L422.1,408.25L421.6,408.20L421.1,408.16L420.6,408.11L420.1,408.07L419.6,408.02L419.1,407.98L418.6,407.93L418.1,407.89L417.6,407.84L417.1,407.80L416.6,407.75Z" fill="#fa9696" fill-opacity="1.0"/>
<path d="M348.1,404.40L348.6,404.40L349.1,404.39L349.6,404.39L350.1,404.38L350.6,404.38L351.1,404.37L351.6,404.36L352.1,404.36L352.6,404.35L353.1,404.34L353.6,404.33L354.1,404.31L354.6,404.30L355.1,404.29L355.6,404.27L356.1,404.26L356.6,404.24L357.1,404.22L357.6,404.19L358.1,404.17L358.6,404.14L359.1,404.12L359.6,404.09L360.1,404.05L360.6,404.02L361.1,403.98L361.6,403.94L362.1,403.89L362.6,403.84L363.1,403.79L363.6,403.74L364.1,403.68L364.6,403.61L365.1,403.54L365.6,403.47L366.1,403.39L366.6,403.31L367.1,403.22L367.6,403.12L368.1,403.02L368.6,402.91L369.1,402.80L369.6,402.67L370.1,402.54L370.6,402.40L371.1,402.26L371.6,402.10L372.1,401.94L372.6,401.76L373.1,401.58L373.6,401.38L374.1,401.18L374.6,400.96L375.1,400.73L375.6,400.49L376.1,400.24L376.6,399.97L377.1,399.69L377.6,399.40L378.1,399.09L378.6,398.76L379.1,398.43L379.6,398.07L380.1,397.70L380.6,397.31L381.1,396.90L381.6,396.48L382.1,396.03L382.6,395.57L383.1,395.09L383.6,394.59L384.1,394.07L384.6,393.53L385.1,392.96L385.6,392.38L386.1,391.77L386.6,391.14L387.1,390.49L387.6,389.81L388.1,389.11L388.6,388.39L389.1,387.64L389.6,386.87L390.1,386.08L390.6,385.26L391.1,384.41L391.6,383.55L392.1,382.65L392.6,381.73L393.1,380.79L393.6,379.82L394.1,378.83L394.6,377.81L395.1,376.77L395.6,375.70L396.1,374.61L396.6,373.50L397.1,372.36L397.6,371.21L398.1,370.03L398.6,368.82L399.1,367.60L399.6,366.36L400.1,365.09L400.6,363.81L401.1,362.51L401.6,361.20L402.1,359.86L402.6,358.52L403.1,357.15L403.6,355.78L404.1,354.39L404.6,353.00L405.1,351.59L405.6,350.18L406.1,348.76L406.6,347.33L407.1,345.90L407.6,344.47L408.1,343.04L408.6,341.61L409.1,340.18L409.6,338.76L410.1,337.34L410.6,335.94L411.1,334.54L411.6,333.15L412.1,331.77L412.6,330.41L413.1,329.07L413.6,327.74L414.1,326.43L414.6,325.15L415.1,323.89L415.6,322.66L416.1,321.45L416.6,320.27L417.1,319.13L417.6,318.01L418.1,316.93L418.6,315.89L419.1,314.88L419.6,313.91L420.1,312.99L420.6,312.10L421.1,311.26L421.6,310.46L422.1,309.71L422.6,309.01L423.1,308.35L423.6,307.75L424.1,307.19L424.6,306.69L425.1,306.24L425.6,305.84L426.1,305.50L426.6,305.21L427.1,304.97L427.6,304.79L428.1,304.67L428.6,304.60L429.1,304.59L429.6,304.63L430.1,304.73L430.6,304.87L431.1,305.06L431.6,305.30L432.1,305.59L432.6,305.93L433.1,306.31L433.6,306.75L434.1,307.22L434.6,307.75L435.1,308.31L435.6,308.93L436.1,309.58L436.6,310.28L437.1,311.01L437.6,311.79L438.1,312.61L438.6,313.46L439.1,314.35L439.6,315.28L440.1,316.24L440.6,317.23L441.1,318.25L441.6,319.30L442.1,320.38L442.6,321.49L443.1,322.62L443.6,323.78L444.1,324.96L444.6,326.15L445.1,327.37L445.6,328.61L446.1,329.86L446.6,331.12L447.1,332.40L447.6,333.69L448.1,334.99L448.6,336.30L449.1,337.61L449.6,338.94L450.1,340.26L450.6,341.59L451.1,342.92L451.6,344.25L452.1,345.58L452.6,346.91L453.1,348.23L453.6,349.55L454.1,350.86L454.6,352.17L455.1,353.47L455.6,354.76L456.1,356.04L456.6,357.31L457.1,358.57L457.6,359.82L458.1,361.06L458.6,362.28L459.1,363.49L459.6,364.68L460.1,365.86L460.6,367.02L461.1,368.16L461.6,369.29L462.1,370.40L462.6,371.50L463.1,372.57L463.6,373.63L464.1,374.67L464.6,375.69L465.1,376.69L465.6,377.68L466.1,378.64L466.6,379.59L467.1,380.51L467.6,381.42L468.1,382.31L468.6,383.18L469.1,384.03L469.6,384.86L470.1,385.68L470.6,386.47L471.1,387.25L471.6,388.01L472.1,388.75L472.6,389.47L473.1,390.18L473.6,390.87L474.1,391.54L474.6,392.19L475.1,392.83L475.6,393.45L476.1,394.05L476.6,394.64L477.1,395.22L477.6,395.77L478.1,396.32L478.6,396.85L479.1,397.36L479.6,397.86L480.1,398.35L480.6,398.82L481.1,399.28L481.6,399.73L482.1,400.16L482.6,400.59L483.1,401.00L483.6,401.40L484.1,401.78L484.6,402.16L485.1,402.53L485.6,402.88L486.1,403.22L486.6,403.56L487.1,403.88L487.6,404.20L488.1,404.50L488.6,404.80L489.1,405.09L489.6,405.37L490.1,405.64L490.6,405.90L491.1,406.16L491.6,406.40L492.1,406.64L492.6,406.88L493.1,407.10L493.6,407.32L494.1,407.53L494.6,407.74L495.1,407.94L495.6,408.13L496.1,408.32L496.6,408.50L497.1,408.67L497.6,408.84L498.1,409.01L498.6,409.17L499.1,409.32L499.6,409.47L500.1,409.62L500.6,409.76L501.1,409.89L501.6,410.03L502.1,410.15L502.6,410.28L503.1,410.39L503.6,410.51L504.1,410.62L504.6,410.73L505.1,410.83L505.6,410.93L506.1,411.03L506.6,411.13L507.1,411.22L507.6,411.31L508.1,411.39L508.6,411.47L509.1,411.55L509.6,411.63L510.1,411.70L510.6,411.77L511.1,411.84L511.6,411.91L512,411.97L512.5,412.04L513,412.10L513.5,412.15L514,412.21L514.5,412.26L515,412.31L515.5,412.36L516,412.41L516.5,412.46L517,412.50L517.5,412.54L518,412.58L518.5,412.62L519,412.66L519.5,412.70L520,412.73L520.5,412.77L521,412.80L521.5,412.83L522,412.86L522.5,412.89L523,412.92L523.5,412.94L524,412.97L524.5,412.99L525,413.02L525.5,413.04L526,413.06L526.5,413.08L527,413.10L527.5,413.12L528,413.14L528.5,413.15L529,413.17L529.5,413.19L530,413.20L530.5,413.22L531,413.23L531.5,413.24L532,413.26L532.5,413.27L533,413.28L533.5,413.29L534,413.30L534.5,413.31L535,413.32L535.5,413.33L536,413.34L536.5,413.35L537,413.36L537.5,413.36L538,413.37L538.5,413.38L539,413.38L539.5,413.39L540,413.40L540,413.50L539.5,413.50L539,413.50L538.5,413.50L538,413.50L537.5,413.50L537,413.50L536.5,413.50L536,413.50L535.5,413.50L535,413.50L534.5,413.50L534,413.50L533.5,413.50L533,413.50L532.5,413.50L532,413.50L531.5,413.50L531,413.50L530.5,413.50L530,413.50L529.5,413.50L529,413.50L528.5,413.49L528,413.49L527.5,413.49L527,413.49L526.5,413.49L526,413.49L525.5,413.49L525,413.49L524.5,413.49L524,413.49L523.5,413.49L523,413.49L522.5,413.49L522,413.49L521.5,413.49L521,413.49L520.5,413.48L520,413.48L519.5,413.48L519,413.48L518.5,413.48L518,413.48L517.5,413.48L517,413.48L516.5,413.48L516,413.47L515.5,413.47L515,413.47L514.5,413.47L514,413.47L513.5,413.47L513,413.46L512.5,413.46L512,413.46L511.6,413.46L511.1,413.45L510.6,413.45L510.1,413.45L509.6,413.45L509.1,413.44L508.6,413.44L508.1,413.44L507.6,413.43L507.1,413.43L506.6,413.43L506.1,413.42L505.6,413.42L505.1,413.41L504.6,413.41L504.1,413.41L503.6,413.40L503.1,413.40L502.6,413.39L502.1,413.38L501.6,413.38L501.1,413.37L500.6,413.37L500.1,413.36L499.6,413.35L499.1,413.34L498.6,413.34L498.1,413.33L497.6,413.32L497.1,413.31L496.6,413.30L496.1,413.29L495.6,413.28L495.1,413.27L494.6,413.26L494.1,413.25L493.6,413.24L493.1,413.23L492.6,413.21L492.1,413.20L491.6,413.19L491.1,413.17L490.6,413.16L490.1,413.14L489.6,413.13L489.1,413.11L488.6,413.09L488.1,413.08L487.6,413.06L487.1,413.04L486.6,413.02L486.1,413.00L485.6,412.98L485.1,412.96L484.6,412.94L484.1,412.91L483.6,412.89L483.1,412.87L482.6,412.84L482.1,412.82L481.6,412.79L481.1,412.77L480.6,412.74L480.1,412.71L479.6,412.69L479.1,412.66L478.6,412.63L478.1,412.60L477.6,412.57L477.1,412.54L476.6,412.51L476.1,412.48L475.6,412.45L475.1,412.41L474.6,412.38L474.1,412.35L473.6,412.32L473.1,412.28L472.6,412.25L472.1,412.21L471.6,412.18L471.1,412.14L470.6,412.11L470.1,412.07L469.6,412.04L469.1,412.00L468.6,411.97L468.1,411.93L467.6,411.89L467.1,411.86L466.6,411.82L466.1,411.78L465.6,411.75L465.1,411.71L464.6,411.67L464.1,411.64L463.6,411.60L463.1,411.56L462.6,411.52L462.1,411.49L461.6,411.45L461.1,411.41L460.6,411.38L460.1,411.34L459.6,411.30L459.1,411.27L458.6,411.23L458.1,411.19L457.6,411.16L457.1,411.12L456.6,411.08L456.1,411.05L455.6,411.01L455.1,410.97L454.6,410.94L454.1,410.90L453.6,410.86L453.1,410.83L452.6,410.79L452.1,410.75L451.6,410.72L451.1,410.68L450.6,410.64L450.1,410.60L449.6,410.57L449.1,410.53L448.6,410.49L448.1,410.45L447.6,410.42L447.1,410.38L446.6,410.34L446.1,410.30L445.6,410.27L445.1,410.23L444.6,410.19L444.1,410.15L443.6,410.11L443.1,410.07L442.6,410.03L442.1,409.99L441.6,409.95L441.1,409.91L440.6,409.87L440.1,409.83L439.6,409.79L439.1,409.75L438.6,409.71L438.1,409.67L437.6,409.62L437.1,409.58L436.6,409.54L436.1,409.50L435.6,409.46L435.1,409.41L434.6,409.37L434.1,409.33L433.6,409.28L433.1,409.24L432.6,409.19L432.1,409.15L431.6,409.11L431.1,409.06L430.6,409.02L430.1,408.97L429.6,408.93L429.1,408.88L428.6,408.84L428.1,408.79L427.6,408.75L427.1,408.70L426.6,408.66L426.1,408.61L425.6,408.57L425.1,408.52L424.6,408.47L424.1,408.43L423.6,408.38L423.1,408.34L422.6,408.29L422.1,408.25L421.6,408.20L421.1,408.16L420.6,408.11L420.1,408.07L419.6,408.02L419.1,407.98L418.6,407.93L418.1,407.89L417.6,407.84L417.1,407.80L416.6,407.75L416.1,407.71L415.6,407.67L415.1,407.62L414.6,407.58L414.1,407.54L413.6,407.49L413.1,407.45L412.6,407.41L412.1,407.37L411.6,407.33L411.1,407.28L410.6,407.24L410.1,407.20L409.6,407.16L409.1,407.12L408.6,407.08L408.1,407.04L407.6,407.00L407.1,406.96L406.6,406.92L406.1,406.88L405.6,406.84L405.1,406.80L404.6,406.77L404.1,406.73L403.6,406.69L403.1,406.65L402.6,406.62L402.1,406.58L401.6,406.54L401.1,406.51L400.6,406.47L400.1,406.43L399.6,406.40L399.1,406.36L398.6,406.33L398.1,406.29L397.6,406.26L397.1,406.23L396.6,406.19L396.1,406.16L395.6,406.13L395.1,406.09L394.6,406.06L394.1,406.03L393.6,406.00L393.1,405.97L392.6,405.93L392.1,405.90L391.6,405.87L391.1,405.84L390.6,405.81L390.1,405.78L389.6,405.75L389.1,405.73L388.6,405.70L388.1,405.67L387.6,405.64L387.1,405.61L386.6,405.59L386.1,405.56L385.6,405.53L385.1,405.51L384.6,405.48L384.1,405.46L383.6,405.43L383.1,405.41L382.6,405.38L382.1,405.36L381.6,405.33L381.1,405.31L380.6,405.29L380.1,405.26L379.6,405.24L379.1,405.22L378.6,405.20L378.1,405.18L377.6,405.15L377.1,405.13L376.6,405.11L376.1,405.09L375.6,405.07L375.1,405.06L374.6,405.04L374.1,405.02L373.6,405.00L373.1,404.98L372.6,404.96L372.1,404.95L371.6,404.93L371.1,404.91L370.6,404.90L370.1,404.88L369.6,404.87L369.1,404.85L368.6,404.84L368.1,404.82L367.6,404.81L367.1,404.79L366.6,404.78L366.1,404.77L365.6,404.76L365.1,404.74L364.6,404.73L364.1,404.72L363.6,404.71L363.1,404.70L362.6,404.69L362.1,404.68L361.6,404.66L361.1,404.65L360.6,404.64L360.1,404.64L359.6,404.63L359.1,404.62L358.6,404.61L358.1,404.60L357.6,404.59L357.1,404.58L356.6,404.58L356.1,404.57L355.6,404.56L355.1,404.56L354.6,404.55L354.1,404.54L353.6,404.54L353.1,404.53L352.6,404.52L352.1,404.52L351.6,404.51L351.1,404.51L350.6,404.50L350.1,404.50L349.6,404.49L349.1,404.49L348.6,404.49L348.1,404.48Z" fill="#3facf7" fill-opacity="0.6"/>
<path d="M307.1,404.32L307.6,404.31L308.1,404.31L308.6,404.30L309.1,404.29L309.6,404.28L310.1,404.27L310.6,404.26L311.1,404.25L311.6,404.24L312.1,404.23L312.6,404.21L313.1,404.20L313.6,404.19L314.1,404.17L314.6,404.15L315.1,404.13L315.6,404.11L316.1,404.09L316.6,404.07L317.1,404.05L317.6,404.02L318.1,404.00L318.6,403.97L319.1,403.94L319.6,403.91L320.1,403.87L320.6,403.84L321.1,403.80L321.6,403.76L322.1,403.71L322.6,403.67L323.1,403.62L323.6,403.57L324.1,403.52L324.6,403.46L325.1,403.40L325.6,403.34L326.1,403.27L326.6,403.20L327.1,403.12L327.6,403.05L328.1,402.96L328.6,402.88L329.1,402.79L329.6,402.69L330.1,402.59L330.6,402.48L331.1,402.37L331.6,402.26L332.1,402.13L332.6,402.01L333.1,401.87L333.6,401.73L334.1,401.59L334.6,401.44L335.1,401.28L335.6,401.11L336.1,400.94L336.6,400.75L337.1,400.57L337.6,400.37L338.1,400.16L338.6,399.95L339.1,399.73L339.6,399.50L340.1,399.26L340.6,399.01L341.1,398.75L341.6,398.49L342.1,398.21L342.6,397.92L343.1,397.62L343.6,397.32L344.1,397.00L344.6,396.67L345.1,396.33L345.6,395.98L346.1,395.62L346.6,395.25L347.1,394.87L347.6,394.47L348.1,394.06L348.6,393.65L349.1,393.22L349.6,392.78L350.1,392.32L350.6,391.86L351.1,391.38L351.6,390.90L352.1,390.40L352.6,389.88L353.1,389.36L353.6,388.83L354.1,388.28L354.6,387.73L355.1,387.16L355.6,386.58L356.1,385.99L356.6,385.39L357.1,384.78L357.6,384.16L358.1,383.53L358.6,382.90L359.1,382.25L359.6,381.59L360.1,380.93L360.6,380.26L361.1,379.58L361.6,378.89L362.1,378.20L362.6,377.50L363.1,376.79L363.6,376.08L364.1,375.37L364.6,374.65L365.1,373.93L365.6,373.20L366.1,372.47L366.6,371.75L367.1,371.02L367.6,370.29L368.1,369.56L368.6,368.84L369.1,368.11L369.6,367.39L370.1,366.67L370.6,365.96L371.1,365.25L371.6,364.55L372.1,363.85L372.6,363.16L373.1,362.48L373.6,361.81L374.1,361.15L374.6,360.50L375.1,359.87L375.6,359.24L376.1,358.63L376.6,358.03L377.1,357.44L377.6,356.87L378.1,356.32L378.6,355.78L379.1,355.27L379.6,354.77L380.1,354.29L380.6,353.82L381.1,353.38L381.6,352.96L382.1,352.56L382.6,352.19L383.1,351.83L383.6,351.50L384.1,351.20L384.6,350.91L385.1,350.65L385.6,350.42L386.1,350.21L386.6,350.03L387.1,349.87L387.6,349.74L388.1,349.64L388.6,349.56L389.1,349.51L389.6,349.48L390.1,349.49L390.6,349.52L391.1,349.58L391.6,349.67L392.1,349.80L392.6,349.96L393.1,350.15L393.6,350.37L394.1,350.62L394.6,350.90L395.1,351.22L395.6,351.56L396.1,351.93L396.6,352.33L397.1,352.76L397.6,353.22L398.1,353.70L398.6,354.21L399.1,354.74L399.6,355.30L400.1,355.89L400.6,356.49L401.1,357.12L401.6,357.77L402.1,358.44L402.6,359.12L403.1,359.83L403.6,360.55L404.1,361.29L404.6,362.04L405.1,362.81L405.6,363.59L406.1,364.38L406.6,365.19L407.1,366.00L407.6,366.82L408.1,367.65L408.6,368.49L409.1,369.33L409.6,370.17L410.1,371.02L410.6,371.88L411.1,372.73L411.6,373.58L412.1,374.44L412.6,375.29L413.1,376.14L413.6,376.99L414.1,377.84L414.6,378.68L415.1,379.51L415.6,380.34L416.1,381.16L416.6,381.98L417.1,382.79L417.6,383.58L418.1,384.37L418.6,385.15L419.1,385.92L419.6,386.68L420.1,387.43L420.6,388.16L421.1,388.88L421.6,389.60L422.1,390.29L422.6,390.98L423.1,391.65L423.6,392.31L424.1,392.95L424.6,393.58L425.1,394.20L425.6,394.80L426.1,395.39L426.6,395.97L427.1,396.53L427.6,397.07L428.1,397.60L428.6,398.12L429.1,398.62L429.6,399.11L430.1,399.59L430.6,400.05L431.1,400.49L431.6,400.93L432.1,401.35L432.6,401.75L433.1,402.15L433.6,402.53L434.1,402.90L434.6,403.25L435.1,403.60L435.6,403.93L436.1,404.25L436.6,404.56L437.1,404.86L437.6,405.15L438.1,405.42L438.6,405.69L439.1,405.94L439.6,406.19L440.1,406.43L440.6,406.66L441.1,406.88L441.6,407.09L442.1,407.29L442.6,407.48L443.1,407.67L443.6,407.85L444.1,408.02L444.6,408.19L445.1,408.35L445.6,408.50L446.1,408.64L446.6,408.78L447.1,408.92L447.6,409.05L448.1,409.17L448.6,409.29L449.1,409.41L449.6,409.52L450.1,409.62L450.6,409.72L451.1,409.82L451.6,409.91L452.1,410.01L452.6,410.09L453.1,410.18L453.6,410.26L454.1,410.34L454.6,410.41L455.1,410.49L455.6,410.56L456.1,410.63L456.6,410.69L457.1,410.76L457.6,410.82L458.1,410.88L458.6,410.94L459.1,411.00L459.6,411.06L460.1,411.11L460.6,411.17L461.1,411.22L461.6,411.27L462.1,411.32L462.6,411.37L463.1,411.42L463.6,411.47L464.1,411.52L464.6,411.56L465.1,411.61L465.6,411.65L466.1,411.70L466.1,411.78L465.6,411.75L465.1,411.71L464.6,411.67L464.1,411.64L463.6,411.60L463.1,411.56L462.6,411.52L462.1,411.49L461.6,411.45L461.1,411.41L460.6,411.38L460.1,411.34L459.6,411.30L459.1,411.27L458.6,411.23L458.1,411.19L457.6,411.16L457.1,411.12L456.6,411.08L456.1,411.05L455.6,411.01L455.1,410.97L454.6,410.94L454.1,410.90L453.6,410.86L453.1,410.83L452.6,410.79L452.1,410.75L451.6,410.72L451.1,410.68L450.6,410.64L450.1,410.60L449.6,410.57L449.1,410.53L448.6,410.49L448.1,410.45L447.6,410.42L447.1,410.38L446.6,410.34L446.1,410.30L445.6,410.27L445.1,410.23L444.6,410.19L444.1,410.15L443.6,410.11L443.1,410.07L442.6,410.03L442.1,409.99L441.6,409.95L441.1,409.91L440.6,409.87L440.1,409.83L439.6,409.79L439.1,409.75L438.6,409.71L438.1,409.67L437.6,409.62L437.1,409.58L436.6,409.54L436.1,409.50L435.6,409.46L435.1,409.41L434.6,409.37L434.1,409.33L433.6,409.28L433.1,409.24L432.6,409.19L432.1,409.15L431.6,409.11L431.1,409.06L430.6,409.02L430.1,408.97L429.6,408.93L429.1,408.88L428.6,408.84L428.1,408.79L427.6,408.75L427.1,408.70L426.6,408.66L426.1,408.61L425.6,408.57L425.1,408.52L424.6,408.47L424.1,408.43L423.6,408.38L423.1,408.34L422.6,408.29L422.1,408.25L421.6,408.20L421.1,408.16L420.6,408.11L420.1,408.07L419.6,408.02L419.1,407.98L418.6,407.93L418.1,407.89L417.6,407.84L417.1,407.80L416.6,407.75L416.1,407.71L415.6,407.67L415.1,407.62L414.6,407.58L414.1,407.54L413.6,407.49L413.1,407.45L412.6,407.41L412.1,407.37L411.6,407.33L411.1,407.28L410.6,407.24L410.1,407.20L409.6,407.16L409.1,407.12L408.6,407.08L408.1,407.04L407.6,407.00L407.1,406.96L406.6,406.92L406.1,406.88L405.6,406.84L405.1,406.80L404.6,406.77L404.1,406.73L403.6,406.69L403.1,406.65L402.6,406.62L402.1,406.58L401.6,406.54L401.1,406.51L400.6,406.47L400.1,406.43L399.6,406.40L399.1,406.36L398.6,406.33L398.1,406.29L397.6,406.26L397.1,406.23L396.6,406.19L396.1,406.16L395.6,406.13L395.1,406.09L394.6,406.06L394.1,406.03L393.6,406.00L393.1,405.97L392.6,405.93L392.1,405.90L391.6,405.87L391.1,405.84L390.6,405.81L390.1,405.78L389.6,405.75L389.1,405.73L388.6,405.70L388.1,405.67L387.6,405.64L387.1,405.61L386.6,405.59L386.1,405.56L385.6,405.53L385.1,405.51L384.6,405.48L384.1,405.46L383.6,405.43L383.1,405.41L382.6,405.38L382.1,405.36L381.6,405.33L381.1,405.31L380.6,405.29L380.1,405.26L379.6,405.24L379.1,405.22L378.6,405.20L378.1,405.18L377.6,405.15L377.1,405.13L376.6,405.11L376.1,405.09L375.6,405.07L375.1,405.06L374.6,405.04L374.1,405.02L373.6,405.00L373.1,404.98L372.6,404.96L372.1,404.95L371.6,404.93L371.1,404.91L370.6,404.90L370.1,404.88L369.6,404.87L369.1,404.85L368.6,404.84L368.1,404.82L367.6,404.81L367.1,404.79L366.6,404.78L366.1,404.77L365.6,404.76L365.1,404.74L364.6,404.73L364.1,404.72L363.6,404.71L363.1,404.70L362.6,404.69L362.1,404.68L361.6,404.66L361.1,404.65L360.6,404.64L360.1,404.64L359.6,404.63L359.1,404.62L358.6,404.61L358.1,404.60L357.6,404.59L357.1,404.58L356.6,404.58L356.1,404.57L355.6,404.56L355.1,404.56L354.6,404.55L354.1,404.54L353.6,404.54L353.1,404.53L352.6,404.52L352.1,404.52L351.6,404.51L351.1,404.51L350.6,404.50L350.1,404.50L349.6,404.49L349.1,404.49L348.6,404.49L348.1,404.48L347.6,404.48L347.1,404.47L346.6,404.47L346.1,404.47L345.6,404.46L345.1,404.46L344.6,404.46L344.1,404.45L343.6,404.45L343.1,404.45L342.6,404.45L342.1,404.44L341.6,404.44L341.1,404.44L340.6,404.44L340.1,404.44L339.6,404.43L339.1,404.43L338.6,404.43L338.1,404.43L337.6,404.43L337.1,404.43L336.6,404.42L336.1,404.42L335.6,404.42L335.1,404.42L334.6,404.42L334.1,404.42L333.6,404.42L333.1,404.42L332.6,404.41L332.1,404.41L331.6,404.41L331.1,404.41L330.6,404.41L330.1,404.41L329.6,404.41L329.1,404.41L328.6,404.41L328.1,404.41L327.6,404.41L327.1,404.41L326.6,404.41L326.1,404.41L325.6,404.41L325.1,404.41L324.6,404.41L324.1,404.40L323.6,404.40L323.1,404.40L322.6,404.40L322.1,404.40L321.6,404.40L321.1,404.40L320.6,404.40L320.1,404.40L319.6,404.40L319.1,404.40L318.6,404.40L318.1,404.40L317.6,404.40L317.1,404.40L316.6,404.40L316.1,404.40L315.6,404.40L315.1,404.40L314.6,404.40L314.1,404.40L313.6,404.40L313.1,404.40L312.6,404.40L312.1,404.40L311.6,404.40L311.1,404.40L310.6,404.40L310.1,404.40L309.6,404.40L309.1,404.40L308.6,404.40L308.1,404.40L307.6,404.40L307.1,404.40Z" fill="#a24cf8" fill-opacity="0.7"/>
<path d="M301.1,404.40L301.6,404.40L302.1,404.40L302.6,404.40L303.1,404.40L303.6,404.40L304.1,404.40L304.6,404.40L305.1,404.40L305.6,404.40L306.1,404.40L306.6,404.40L307.1,404.40L307.6,404.40L308.1,404.40L308.6,404.40L309.1,404.40L309.6,404.40L310.1,404.40L310.6,404.40L311.1,404.40L311.6,404.40L312.1,404.40L312.6,404.40L313.1,404.40L313.6,404.40L314.1,404.40L314.6,404.40L315.1,404.40L315.6,404.40L316.1,404.40L316.6,404.40L317.1,404.40L317.6,404.40L318.1,404.40L318.6,404.40L319.1,404.40L319.6,404.40L320.1,404.40L320.6,404.40L321.1,404.40L321.6,404.40L322.1,404.40L322.6,404.40L323.1,404.40L323.6,404.40L324.1,404.40L324.6,404.41L325.1,404.41L325.6,404.41L326.1,404.41L326.6,404.41L327.1,404.41L327.6,404.41L328.1,404.41L328.6,404.41L329.1,404.41L329.6,404.41L330.1,404.41L330.6,404.41L331.1,404.41L331.6,404.41L332.1,404.41L332.6,404.41L333.1,404.42L333.6,404.42L334.1,404.42L334.6,404.42L335.1,404.42L335.6,404.42L336.1,404.42L336.6,404.42L337.1,404.43L337.6,404.43L338.1,404.43L338.6,404.43L339.1,404.43L339.6,404.43L340.1,404.44L340.6,404.44L341.1,404.44L341.6,404.44L342.1,404.44L342.6,404.45L343.1,404.45L343.6,404.45L344.1,404.45L344.6,404.46L345.1,404.46L345.6,404.46L346.1,404.47L346.6,404.47L347.1,404.47L347.6,404.48L348.1,404.48L348.6,404.49L349.1,404.49L349.6,404.49L350.1,404.50L350.6,404.50L351.1,404.51L351.6,404.51L352.1,404.52L352.6,404.52L353.1,404.53L353.6,404.54L354.1,404.54L354.6,404.55L355.1,404.56L355.6,404.56L356.1,404.57L356.6,404.58L357.1,404.58L357.6,404.59L358.1,404.60L358.6,404.61L359.1,404.62L359.6,404.63L360.1,404.64L360.6,404.64L361.1,404.65L361.6,404.66L362.1,404.68L362.6,404.69L363.1,404.70L363.6,404.71L364.1,404.72L364.6,404.73L365.1,404.74L365.6,404.76L366.1,404.77L366.6,404.78L367.1,404.79L367.6,404.81L368.1,404.82L368.6,404.84L369.1,404.85L369.6,404.87L370.1,404.88L370.6,404.90L371.1,404.91L371.6,404.93L372.1,404.95L372.6,404.96L373.1,404.98L373.6,405.00L374.1,405.02L374.6,405.04L375.1,405.06L375.6,405.07L376.1,405.09L376.6,405.11L377.1,405.13L377.6,405.15L378.1,405.18L378.6,405.20L379.1,405.22L379.6,405.24L380.1,405.26L380.6,405.29L381.1,405.31L381.6,405.33L382.1,405.36L382.6,405.38L383.1,405.41L383.6,405.43L384.1,405.46L384.6,405.48L385.1,405.51L385.6,405.53L386.1,405.56L386.6,405.59L387.1,405.61L387.6,405.64L388.1,405.67L388.6,405.70L389.1,405.73L389.6,405.75L390.1,405.78L390.6,405.81L391.1,405.84L391.6,405.87L392.1,405.90L392.6,405.93L393.1,405.97L393.6,406.00L394.1,406.03L394.6,406.06L395.1,406.09L395.6,406.13L396.1,406.16L396.6,406.19L397.1,406.23L397.6,406.26L398.1,406.29L398.6,406.33L399.1,406.36L399.6,406.40L400.1,406.43L400.6,406.47L401.1,406.51L401.6,406.54L402.1,406.58L402.6,406.62L403.1,406.65L403.6,406.69L404.1,406.73L404.6,406.77L405.1,406.80L405.6,406.84L406.1,406.88L406.6,406.92L407.1,406.96L407.6,407.00L408.1,407.04L408.6,407.08L409.1,407.12L409.6,407.16L410.1,407.20L410.6,407.24L411.1,407.28L411.6,407.33L412.1,407.37L412.6,407.41L413.1,407.45L413.6,407.49L414.1,407.54L414.6,407.58L415.1,407.62L415.6,407.67L416.1,407.71L416.6,407.75L417.1,407.80L417.6,407.84L418.1,407.89L418.6,407.93L419.1,407.98L419.6,408.02L420.1,408.07L420.6,408.11L421.1,408.16L421.6,408.20L422.1,408.25L422.6,408.29L423.1,408.34L423.6,408.38L424.1,408.43L424.6,408.47L425.1,408.52L425.6,408.57L426.1,408.61L426.6,408.66L427.1,408.70L427.6,408.75L428.1,408.79L428.6,408.84L429.1,408.88L429.6,408.93L430.1,408.97L430.6,409.02L431.1,409.06L431.6,409.11L432.1,409.15L432.6,409.19L433.1,409.24L433.6,409.28L434.1,409.33L434.6,409.37L435.1,409.41L435.6,409.46L436.1,409.50L436.6,409.54L437.1,409.58L437.6,409.62L438.1,409.67L438.6,409.71L439.1,409.75L439.6,409.79L440.1,409.83L440.6,409.87L441.1,409.91L441.6,409.95L442.1,409.99L442.6,410.03L443.1,410.07L443.6,410.11L444.1,410.15L444.6,410.19L445.1,410.23L445.6,410.27L446.1,410.30L446.6,410.34L447.1,410.38L447.6,410.42L448.1,410.45L448.6,410.49L449.1,410.53L449.6,410.57L450.1,410.60L450.6,410.64L451.1,410.68L451.6,410.72L452.1,410.75L452.6,410.79L453.1,410.83L453.6,410.86L454.1,410.90L454.6,410.94L455.1,410.97L455.6,411.01L456.1,411.05L456.6,411.08L457.1,411.12L457.6,411.16L458.1,411.19L458.6,411.23L459.1,411.27L459.6,411.30L460.1,411.34L460.6,411.38L461.1,411.41L461.6,411.45L462.1,411.49L462.6,411.52L463.1,411.56L463.6,411.60L464.1,411.64L464.6,411.67L465.1,411.71L465.6,411.75L466.1,411.78L466.6,411.82L467.1,411.86L467.6,411.89L468.1,411.93L468.6,411.97L469.1,412.00L469.6,412.04L470.1,412.07L470.6,412.11L471.1,412.14L471.6,412.18L472.1,412.21L472.6,412.25L473.1,412.28L473.6,412.32L474.1,412.35L474.6,412.38L475.1,412.41L475.6,412.45L476.1,412.48L476.6,412.51L477.1,412.54L477.6,412.57L478.1,412.60L478.6,412.63L479.1,412.66L479.6,412.69L480.1,412.71L480.6,412.74L481.1,412.77L481.6,412.79L482.1,412.82L482.6,412.84L483.1,412.87L483.6,412.89L484.1,412.91L484.6,412.94L485.1,412.96L485.6,412.98L486.1,413.00L486.6,413.02L487.1,413.04L487.6,413.06L488.1,413.08L488.6,413.09L489.1,413.11L489.6,413.13L490.1,413.14L490.6,413.16L491.1,413.17L491.6,413.19L492.1,413.20L492.6,413.21L493.1,413.23L493.6,413.24L494.1,413.25L494.6,413.26L495.1,413.27L495.6,413.28L496.1,413.29L496.6,413.30L497.1,413.31L497.6,413.32L498.1,413.33L498.6,413.34L499.1,413.34L499.6,413.35L500.1,413.36L500.6,413.37L501.1,413.37L501.6,413.38L502.1,413.38L502.6,413.39L503.1,413.40L503.6,413.40L504.1,413.41L504.6,413.41L505.1,413.41L505.6,413.42L506.1,413.42L506.6,413.43L507.1,413.43L507.6,413.43L508.1,413.44L508.6,413.44L509.1,413.44L509.6,413.45L510.1,413.45L510.6,413.45L511.1,413.45L511.6,413.46L512,413.46L512.5,413.46L513,413.46L513.5,413.47L514,413.47L514.5,413.47L515,413.47L515.5,413.47L516,413.47L516.5,413.48L517,413.48L517.5,413.48L518,413.48L518.5,413.48L519,413.48L519.5,413.48L520,413.48L520.5,413.48L521,413.49L521.5,413.49L522,413.49L522.5,413.49L523,413.49L523.5,413.49L524,413.49L524.5,413.49L525,413.49L525.5,413.49L526,413.49L526.5,413.49L527,413.49L527.5,413.49L528,413.49L528.5,413.49L529,413.50L529.5,413.50L530,413.50L530.5,413.50L531,413.50L531.5,413.50L532,413.50L532.5,413.50L533,413.50L533.5,413.50L534,413.50L534.5,413.50L535,413.50L535.5,413.50L536,413.50L536.5,413.50L537,413.50L537.5,413.50L538,413.50L538.5,413.50L539,413.50L539.5,413.50L540,413.50" fill="none" stroke="#e8c070" stroke-width="1.0"/>
<path d="M301.1,398.44L301.6,398.63L302.1,398.84L302.6,399.12L303.1,399.27L303.6,399.52L304.1,399.22L304.6,399.21L305.1,399.50L305.6,399.59L306.1,399.83L306.6,399.58L307.1,399.58L307.6,399.44L308.1,399.50L308.6,399.58L309.1,399.32L309.6,399.21L310.1,399.15L310.6,399.48L311.1,399.69L311.6,399.53L312.1,399.77L312.6,399.60L313.1,399.74L313.6,399.57L314.1,399.34L314.6,399.66L315.1,399.56L315.6,399.47L316.1,399.85L316.6,400.13L317.1,400.04L317.6,400.37L318.1,400.42L318.6,400.54L319.1,400.38L319.6,400.66L320.1,400.78L320.6,401.05L321.1,401.25L321.6,401.08L322.1,400.96L322.6,400.73L323.1,400.50L323.6,400.24L324.1,400.14L324.6,400.22L325.1,399.94L325.6,400.08L326.1,400.00L326.6,399.91L327.1,400.12L327.6,400.12L328.1,400.01L328.6,400.00L329.1,400.12L329.6,399.84L330.1,400.13L330.6,399.82L331.1,399.96L331.6,400.14L332.1,399.81L332.6,399.96L333.1,399.83L333.6,399.83L334.1,399.47L334.6,399.16L335.1,398.94L335.6,399.19L336.1,398.95L336.6,399.05L337.1,399.23L337.6,399.39L338.1,399.15L338.6,398.92L339.1,398.79L339.6,398.80L340.1,398.38L340.6,398.35L341.1,398.33L341.6,398.31L342.1,397.78L342.6,397.79L343.1,397.26L343.6,396.89L344.1,396.66L344.6,396.60L345.1,396.16L345.6,396.06L346.1,395.71L346.6,395.20L347.1,394.70L347.6,394.11L348.1,393.47L348.6,392.87L349.1,392.60L349.6,392.49L350.1,391.84L350.6,391.13L351.1,390.99L351.6,390.54L352.1,389.99L352.6,389.34L353.1,388.90L353.6,388.57L354.1,388.00L354.6,387.40L355.1,386.56L355.6,386.25L356.1,385.37L356.6,384.78L357.1,384.38L357.6,383.51L358.1,383.01L358.6,382.62L359.1,381.99L359.6,381.43L360.1,380.44L360.6,379.65L361.1,378.69L361.6,378.13L362.1,377.22L362.6,376.41L363.1,375.89L363.6,375.26L364.1,374.67L364.6,373.72L365.1,372.79L365.6,372.00L366.1,371.02L366.6,369.92L367.1,368.90L367.6,367.69L368.1,366.62L368.6,365.93L369.1,365.16L369.6,364.16L370.1,363.07L370.6,361.87L371.1,360.52L371.6,359.30L372.1,358.40L372.6,357.51L373.1,356.30L373.6,355.36L374.1,354.39L374.6,353.37L375.1,352.34L375.6,351.35L376.1,350.12L376.6,349.13L377.1,347.87L377.6,346.76L378.1,345.84L378.6,344.86L379.1,343.64L379.6,342.85L380.1,341.86L380.6,340.84L381.1,339.49L381.6,338.50L382.1,337.33L382.6,336.45L383.1,335.44L383.6,334.65L384.1,333.75L384.6,332.95L385.1,331.87L385.6,330.98L386.1,330.16L386.6,329.39L387.1,328.33L387.6,327.59L388.1,326.86L388.6,326.01L389.1,325.34L389.6,324.66L390.1,323.70L390.6,322.76L391.1,321.63L391.6,320.93L392.1,320.29L392.6,319.38L393.1,318.62L393.6,317.88L394.1,317.16L394.6,316.12L395.1,315.47L395.6,314.70L396.1,314.01L396.6,313.18L397.1,312.49L397.6,311.91L398.1,311.25L398.6,310.65L399.1,309.65L399.6,308.76L400.1,308.07L400.6,307.53L401.1,306.73L401.6,306.23L402.1,305.71L402.6,304.84L403.1,304.26L403.6,303.54L404.1,302.74L404.6,302.01L405.1,301.41L405.6,300.74L406.1,300.10L406.6,299.37L407.1,298.92L407.6,298.41L408.1,298.05L408.6,297.66L409.1,297.06L409.6,296.86L410.1,296.11L410.6,295.62L411.1,295.06L411.6,294.59L412.1,293.95L412.6,293.75L413.1,293.28L413.6,292.60L414.1,292.30L414.6,291.69L415.1,291.38L415.6,290.94L416.1,290.66L416.6,290.62L417.1,290.48L417.6,290.11L418.1,289.99L418.6,289.76L419.1,289.39L419.6,288.91L420.1,288.74L420.6,288.57L421.1,288.64L421.6,288.71L422.1,288.57L422.6,288.29L423.1,288.36L423.6,287.91L424.1,287.58L424.6,287.56L425.1,287.61L425.6,287.39L426.1,287.51L426.6,287.82L427.1,287.83L427.6,287.92L428.1,287.93L428.6,288.02L429.1,288.57L429.6,288.77L430.1,289.35L430.6,289.91L431.1,290.27L431.6,290.46L432.1,291.11L432.6,291.47L433.1,291.79L433.6,292.09L434.1,292.81L434.6,293.22L435.1,293.54L435.6,293.98L436.1,294.24L436.6,294.82L437.1,295.29L437.6,295.70L438.1,296.40L438.6,297.12L439.1,297.35L439.6,297.91L440.1,298.30L440.6,299.11L441.1,299.82L441.6,300.18L442.1,300.58L442.6,300.93L443.1,301.78L443.6,302.20L444.1,302.81L444.6,303.32L445.1,303.94L445.6,304.51L446.1,305.16L446.6,305.41L447.1,306.05L447.6,306.40L448.1,306.87L448.6,307.21L449.1,307.52L449.6,307.96L450.1,308.33L450.6,308.64L451.1,309.16L451.6,309.55L452.1,309.59L452.6,309.76L453.1,310.04L453.6,310.58L454.1,311.06L454.6,311.30L455.1,311.21L455.6,311.58L456.1,311.72L456.6,311.95L457.1,312.23L457.6,312.47L458.1,312.59L458.6,312.97L459.1,313.03L459.6,313.10L460.1,313.46L460.6,313.42L461.1,313.48L461.6,313.88L462.1,313.83L462.6,314.28L463.1,314.66L463.6,314.89L464.1,315.07L464.6,315.59L465.1,316.20L465.6,316.37L466.1,316.79L466.6,317.28L467.1,317.78L467.6,318.22L468.1,318.58L468.6,319.26L469.1,320.12L469.6,320.52L470.1,321.09L470.6,322.08L471.1,323.03L471.6,323.94L472.1,324.51L472.6,325.51L473.1,326.70L473.6,327.94L474.1,328.97L474.6,329.66L475.1,330.90L475.6,331.76L476.1,332.94L476.6,334.36L477.1,335.62L477.6,336.58L478.1,337.72L478.6,339.26L479.1,340.36L479.6,341.82L480.1,343.18L480.6,344.43L481.1,346.02L481.6,347.28L482.1,348.60L482.6,350.16L483.1,351.54L483.6,352.94L484.1,354.70L484.6,356.54L485.1,358.45L485.6,359.91L486.1,361.55L486.6,363.10L487.1,364.82L487.6,366.46L488.1,368.33L488.6,369.82L489.1,371.10L489.6,372.76L490.1,374.03L490.6,375.58L491.1,377.01L491.6,378.63L492.1,379.98L492.6,381.33L493.1,382.40L493.6,383.63L494.1,384.63L494.6,385.89L495.1,386.97L495.6,387.76L496.1,388.60L496.6,389.50L497.1,390.57L497.6,391.26L498.1,392.26L498.6,393.16L499.1,393.69L499.6,394.56L500.1,395.03L500.6,395.52L501.1,396.27L501.6,396.77L502.1,397.64L502.6,398.22L503.1,398.68L503.6,399.41L504.1,399.64L504.6,400.28L505.1,400.49L505.6,400.76L506.1,401.49L506.6,402.03L507.1,402.27L507.6,402.42L508.1,403.10L508.6,403.55L509.1,404.07L509.6,404.15L510.1,404.53L510.6,404.73L511.1,404.88L511.6,405.11L512,405.51L512.5,405.76L513,406.03L513.5,406.16L514,406.72L514.5,407.15L515,407.65L515.5,407.90L516,408.40L516.5,408.67L517,408.96L517.5,409.23L518,409.58L518.5,409.69L519,409.61L519.5,409.48L520,409.45L520.5,409.32L521,409.69L521.5,409.78L522,410.01L522.5,409.77L523,409.81L523.5,410.10L524,410.20L524.5,410.17L525,410.17L525.5,409.95L526,409.78L526.5,409.64L527,409.65L527.5,409.68L528,410.02L528.5,409.95L529,410.01L529.5,410.12L530,410.20L530.5,410.38L531,410.53L531.5,410.82L532,410.79L532.5,411.28L533,411.34L533.5,411.72L534,411.93L534.5,412.12L535,412.19L535.5,412.53L536,412.36L536.5,412.55L537,412.49L537.5,412.67L538,412.87L538.5,412.72L539,412.60L539.5,412.39L540,412.31" fill="none" stroke="#6a6a6a" stroke-width="0.75"/>
<path d="M301.1,399.67L301.6,399.72L302.1,399.77L302.6,399.82L303.1,399.88L303.6,399.94L304.1,400.00L304.6,400.07L305.1,400.14L305.6,400.21L306.1,400.28L306.6,400.35L307.1,400.43L307.6,400.51L308.1,400.58L308.6,400.66L309.1,400.74L309.6,400.82L310.1,400.90L310.6,400.98L311.1,401.07L311.6,401.15L312.1,401.23L312.6,401.31L313.1,401.38L313.6,401.46L314.1,401.54L314.6,401.61L315.1,401.69L315.6,401.76L316.1,401.83L316.6,401.90L317.1,401.96L317.6,402.03L318.1,402.09L318.6,402.15L319.1,402.20L319.6,402.25L320.1,402.30L320.6,402.35L321.1,402.39L321.6,402.43L322.1,402.46L322.6,402.49L323.1,402.52L323.6,402.54L324.1,402.55L324.6,402.57L325.1,402.58L325.6,402.58L326.1,402.58L326.6,402.58L327.1,402.57L327.6,402.56L328.1,402.55L328.6,402.53L329.1,402.51L329.6,402.48L330.1,402.45L330.6,402.41L331.1,402.37L331.6,402.33L332.1,402.28L332.6,402.22L333.1,402.16L333.6,402.10L334.1,402.02L334.6,401.94L335.1,401.86L335.6,401.76L336.1,401.66L336.6,401.55L337.1,401.43L337.6,401.31L338.1,401.17L338.6,401.02L339.1,400.87L339.6,400.70L340.1,400.52L340.6,400.33L341.1,400.12L341.6,399.90L342.1,399.67L342.6,399.42L343.1,399.16L343.6,398.89L344.1,398.60L344.6,398.29L345.1,397.97L345.6,397.63L346.1,397.27L346.6,396.90L347.1,396.51L347.6,396.11L348.1,395.69L348.6,395.25L349.1,394.80L349.6,394.33L350.1,393.85L350.6,393.35L351.1,392.85L351.6,392.32L352.1,391.78L352.6,391.24L353.1,390.67L353.6,390.10L354.1,389.51L354.6,388.92L355.1,388.30L355.6,387.68L356.1,387.05L356.6,386.40L357.1,385.74L357.6,385.07L358.1,384.39L358.6,383.69L359.1,382.99L359.6,382.27L360.1,381.54L360.6,380.80L361.1,380.05L361.6,379.27L362.1,378.49L362.6,377.69L363.1,376.87L363.6,376.05L364.1,375.21L364.6,374.34L365.1,373.46L365.6,372.57L366.1,371.65L366.6,370.72L367.1,369.78L367.6,368.80L368.1,367.82L368.6,366.82L369.1,365.80L369.6,364.76L370.1,363.72L370.6,362.66L371.1,361.58L371.6,360.50L372.1,359.42L372.6,358.32L373.1,357.22L373.6,356.13L374.1,355.02L374.6,353.91L375.1,352.83L375.6,351.73L376.1,350.64L376.6,349.57L377.1,348.50L377.6,347.43L378.1,346.38L378.6,345.33L379.1,344.28L379.6,343.25L380.1,342.23L380.6,341.21L381.1,340.21L381.6,339.22L382.1,338.23L382.6,337.25L383.1,336.28L383.6,335.32L384.1,334.36L384.6,333.41L385.1,332.47L385.6,331.53L386.1,330.60L386.6,329.68L387.1,328.77L387.6,327.86L388.1,326.97L388.6,326.09L389.1,325.20L389.6,324.33L390.1,323.47L390.6,322.61L391.1,321.77L391.6,320.94L392.1,320.12L392.6,319.31L393.1,318.52L393.6,317.74L394.1,316.97L394.6,316.22L395.1,315.47L395.6,314.74L396.1,314.03L396.6,313.32L397.1,312.62L397.6,311.95L398.1,311.28L398.6,310.62L399.1,309.99L399.6,309.36L400.1,308.73L400.6,308.13L401.1,307.53L401.6,306.94L402.1,306.37L402.6,305.81L403.1,305.24L403.6,304.70L404.1,304.16L404.6,303.62L405.1,303.09L405.6,302.57L406.1,302.05L406.6,301.53L407.1,301.02L407.6,300.51L408.1,300.00L408.6,299.50L409.1,299.00L409.6,298.50L410.1,298.01L410.6,297.52L411.1,297.04L411.6,296.56L412.1,296.09L412.6,295.62L413.1,295.17L413.6,294.72L414.1,294.28L414.6,293.85L415.1,293.44L415.6,293.03L416.1,292.64L416.6,292.26L417.1,291.90L417.6,291.56L418.1,291.23L418.6,290.92L419.1,290.63L419.6,290.37L420.1,290.12L420.6,289.89L421.1,289.70L421.6,289.52L422.1,289.37L422.6,289.25L423.1,289.15L423.6,289.08L424.1,289.03L424.6,289.01L425.1,289.02L425.6,289.06L426.1,289.12L426.6,289.22L427.1,289.33L427.6,289.48L428.1,289.66L428.6,289.86L429.1,290.10L429.6,290.36L430.1,290.63L430.6,290.93L431.1,291.24L431.6,291.57L432.1,291.91L432.6,292.27L433.1,292.65L433.6,293.04L434.1,293.44L434.6,293.86L435.1,294.29L435.6,294.73L436.1,295.19L436.6,295.66L437.1,296.14L437.6,296.64L438.1,297.14L438.6,297.64L439.1,298.17L439.6,298.70L440.1,299.22L440.6,299.77L441.1,300.31L441.6,300.85L442.1,301.40L442.6,301.95L443.1,302.49L443.6,303.03L444.1,303.56L444.6,304.09L445.1,304.61L445.6,305.13L446.1,305.64L446.6,306.13L447.1,306.61L447.6,307.09L448.1,307.53L448.6,307.97L449.1,308.39L449.6,308.79L450.1,309.17L450.6,309.54L451.1,309.89L451.6,310.21L452.1,310.53L452.6,310.81L453.1,311.08L453.6,311.34L454.1,311.57L454.6,311.79L455.1,311.99L455.6,312.18L456.1,312.36L456.6,312.53L457.1,312.70L457.6,312.86L458.1,313.01L458.6,313.16L459.1,313.31L459.6,313.47L460.1,313.64L460.6,313.82L461.1,314.01L461.6,314.22L462.1,314.45L462.6,314.71L463.1,314.98L463.6,315.29L464.1,315.62L464.6,315.98L465.1,316.37L465.6,316.79L466.1,317.25L466.6,317.73L467.1,318.26L467.6,318.82L468.1,319.40L468.6,320.03L469.1,320.70L469.6,321.37L470.1,322.10L470.6,322.88L471.1,323.65L471.6,324.48L472.1,325.35L472.6,326.22L473.1,327.14L473.6,328.10L474.1,329.07L474.6,330.09L475.1,331.16L475.6,332.23L476.1,333.35L476.6,334.53L477.1,335.72L477.6,336.96L478.1,338.26L478.6,339.57L479.1,340.92L479.6,342.34L480.1,343.77L480.6,345.24L481.1,346.77L481.6,348.32L482.1,349.89L482.6,351.51L483.1,353.14L483.6,354.78L484.1,356.46L484.6,358.14L485.1,359.82L485.6,361.52L486.1,363.22L486.6,364.90L487.1,366.57L487.6,368.23L488.1,369.87L488.6,371.49L489.1,373.08L489.6,374.65L490.1,376.17L490.6,377.66L491.1,379.12L491.6,380.53L492.1,381.91L492.6,383.24L493.1,384.52L493.6,385.77L494.1,386.97L494.6,388.11L495.1,389.23L495.6,390.29L496.1,391.30L496.6,392.29L497.1,393.22L497.6,394.11L498.1,394.97L498.6,395.78L499.1,396.56L499.6,397.31L500.1,398.01L500.6,398.68L501.1,399.32L501.6,399.91L502.1,400.49L502.6,401.04L503.1,401.55L503.6,402.05L504.1,402.52L504.6,402.97L505.1,403.40L505.6,403.81L506.1,404.20L506.6,404.57L507.1,404.93L507.6,405.27L508.1,405.60L508.6,405.92L509.1,406.22L509.6,406.52L510.1,406.80L510.6,407.07L511.1,407.34L511.6,407.59L512,407.83L512.5,408.07L513,408.29L513.5,408.51L514,408.71L514.5,408.91L515,409.10L515.5,409.28L516,409.46L516.5,409.62L517,409.78L517.5,409.93L518,410.07L518.5,410.21L519,410.34L519.5,410.47L520,410.59L520.5,410.71L521,410.82L521.5,410.93L522,411.03L522.5,411.13L523,411.22L523.5,411.31L524,411.40L524.5,411.48L525,411.56L525.5,411.63L526,411.71L526.5,411.78L527,411.84L527.5,411.91L528,411.97L528.5,412.03L529,412.09L529.5,412.14L530,412.20L530.5,412.25L531,412.30L531.5,412.35L532,412.40L532.5,412.45L533,412.50L533.5,412.54L534,412.59L534.5,412.63L535,412.67L535.5,412.71L536,412.75L536.5,412.79L537,412.82L537.5,412.86L538,412.89L538.5,412.92L539,412.95L539.5,412.97L540,413.00" fill="none" stroke="#40c8a8" stroke-width="1.0"/>
<rect x="301.05" y="246.05" width="239.50" height="192.70" fill="none" stroke="#111" stroke-width="1.45"/>
<line x1="301.05" y1="262.11" x2="302.85" y2="262.11" stroke="#111" stroke-width="1.1"/>
<line x1="301.05" y1="278.17" x2="304.45" y2="278.17" stroke="#111" stroke-width="1.1"/>
<line x1="301.05" y1="294.23" x2="302.85" y2="294.23" stroke="#111" stroke-width="1.1"/>
<line x1="301.05" y1="310.28" x2="304.45" y2="310.28" stroke="#111" stroke-width="1.1"/>
<line x1="301.05" y1="326.34" x2="302.85" y2="326.34" stroke="#111" stroke-width="1.1"/>
<line x1="301.05" y1="342.40" x2="304.45" y2="342.40" stroke="#111" stroke-width="1.1"/>
<line x1="301.05" y1="358.46" x2="302.85" y2="358.46" stroke="#111" stroke-width="1.1"/>
<line x1="301.05" y1="374.52" x2="304.45" y2="374.52" stroke="#111" stroke-width="1.1"/>
<line x1="301.05" y1="390.58" x2="302.85" y2="390.58" stroke="#111" stroke-width="1.1"/>
<line x1="301.05" y1="406.63" x2="304.45" y2="406.63" stroke="#111" stroke-width="1.1"/>
<line x1="301.05" y1="422.69" x2="302.85" y2="422.69" stroke="#111" stroke-width="1.1"/>
<line x1="361.51" y1="438.75" x2="361.51" y2="435.35" stroke="#111" stroke-width="1.1"/>
<line x1="422.37" y1="438.75" x2="422.37" y2="435.35" stroke="#111" stroke-width="1.1"/>
<line x1="483.23" y1="438.75" x2="483.23" y2="435.35" stroke="#111" stroke-width="1.1"/>
<line x1="331.08" y1="438.75" x2="331.08" y2="436.95" stroke="#111" stroke-width="1.1"/>
<line x1="391.94" y1="438.75" x2="391.94" y2="436.95" stroke="#111" stroke-width="1.1"/>
<line x1="452.80" y1="438.75" x2="452.80" y2="436.95" stroke="#111" stroke-width="1.1"/>
<line x1="513.66" y1="438.75" x2="513.66" y2="436.95" stroke="#111" stroke-width="1.1"/>
<text x="300.6" y="449.4" font-size="8.0" text-anchor="middle" font-weight="bold" fill="#111" stroke="#111" stroke-width="0.22">536</text>
<text x="361.5" y="449.4" font-size="8.0" text-anchor="middle" font-weight="bold" fill="#111" stroke="#111" stroke-width="0.22">534</text>
<text x="422.4" y="449.4" font-size="8.0" text-anchor="middle" font-weight="bold" fill="#111" stroke="#111" stroke-width="0.22">532</text>
<text x="483.2" y="449.4" font-size="8.0" text-anchor="middle" font-weight="bold" fill="#111" stroke="#111" stroke-width="0.22">530</text>
<text x="420.9" y="461.7" font-size="9.9" text-anchor="middle" font-weight="bold" fill="#111" stroke="#111" stroke-width="0.22">Binging Energy (eV)</text>
<text transform="translate(292.3,341.8) rotate(-90)" font-size="10.0" font-weight="bold" text-anchor="middle" fill="#111" stroke="#111" stroke-width="0.22">Instensity (a.u.)</text>
<text x="311.4" y="265.2" font-size="10.0" text-anchor="start" font-weight="normal" fill="#2a2a2a" stroke="#2a2a2a" stroke-width="0.15">(d)</text>
<text x="507.1" y="261.8" font-size="10" text-anchor="start" font-weight="normal" fill="#222" >O 1s</text>
<text x="414.2" y="280.5" font-size="9.8" text-anchor="start" font-weight="normal" fill="#52b0e8" >O-H</text>
<text x="346.8" y="336.7" font-size="9.8" text-anchor="start" font-weight="normal" fill="#6464e0" >H-O-H</text>
<text x="484.5" y="329.6" font-size="10.2" fill="#f0a060">Cu<tspan font-size="6.6" dy="2.2">2+1</tspan><tspan dy="-2.2">O</tspan></text>
</g>
</svg>
</body></html>
